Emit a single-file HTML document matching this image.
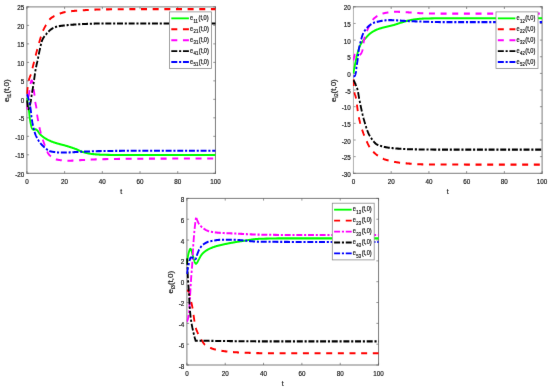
<!DOCTYPE html>
<html><head><meta charset="utf-8"><title>Figure</title>
<style>html,body{margin:0;padding:0;background:#fff}svg{display:block}text{font-family:"Liberation Sans",Arial,sans-serif;fill:#1c1c1c;stroke:#1c1c1c;stroke-width:0.22px}</style></head>
<body>
<svg width="550" height="387" viewBox="0 0 550 387">
<rect width="550" height="387" fill="#fff"/>
<filter id="bl" x="0" y="0" width="100%" height="100%" filterUnits="userSpaceOnUse" color-interpolation-filters="sRGB"><feConvolveMatrix order="3" kernelMatrix="0.0028 0.0470 0.0028 0.0470 0.8008 0.0470 0.0028 0.0470 0.0028" edgeMode="duplicate" preserveAlpha="true"/></filter>
<g filter="url(#bl)">
<rect width="550" height="387" fill="#fff"/>
<g id="plot1">
<clipPath id="c0"><rect x="26.3" y="6.3" width="189.75" height="167.6"/></clipPath>
<path d="M26.9 173.3 v-2.2 M26.9 6.9 v2.2 M64.61 173.3 v-2.2 M64.61 6.9 v2.2 M102.32 173.3 v-2.2 M102.32 6.9 v2.2 M140.03 173.3 v-2.2 M140.03 6.9 v2.2 M177.74 173.3 v-2.2 M177.74 6.9 v2.2 M215.45 173.3 v-2.2 M215.45 6.9 v2.2 M26.9 6.9 h2.2 M215.45 6.9 h-2.2 M26.9 25.39 h2.2 M215.45 25.39 h-2.2 M26.9 43.88 h2.2 M215.45 43.88 h-2.2 M26.9 62.37 h2.2 M215.45 62.37 h-2.2 M26.9 80.86 h2.2 M215.45 80.86 h-2.2 M26.9 99.34 h2.2 M215.45 99.34 h-2.2 M26.9 117.83 h2.2 M215.45 117.83 h-2.2 M26.9 136.32 h2.2 M215.45 136.32 h-2.2 M26.9 154.81 h2.2 M215.45 154.81 h-2.2 M26.9 173.3 h2.2 M215.45 173.3 h-2.2" stroke="#6a6a6a" stroke-width="0.7" fill="none"/>
<path d="M26.9 6.5 V173.7" stroke="#5c5c5c" stroke-width="0.8" fill="none"/>
<path d="M26.5 6.9 H215.85 M215.45 6.5 V173.7 M26.5 173.3 H215.85" stroke="#5c5c5c" stroke-width="0.8" fill="none"/>
<g clip-path="url(#c0)"><g transform="scale(1 1.115)" fill="none" stroke-width="1.85" stroke-linejoin="miter" stroke-miterlimit="3">
<path d="M26.9 87.77 L27.02 88.32 L27.14 88.88 L27.26 89.46 L27.37 90.05 L27.49 90.66 L27.61 91.28 L27.73 91.91 L27.85 92.56 L27.97 93.22 L28.09 93.88 L28.2 94.56 L28.32 95.24 L28.44 95.94 L28.56 96.66 L28.68 97.4 L28.8 98.16 L28.92 98.96 L29.03 99.8 L29.15 100.71 L29.27 101.75 L29.39 102.85 L29.51 103.94 L29.63 104.95 L29.75 105.8 L29.86 106.55 L29.98 107.27 L30.1 107.95 L30.22 108.61 L30.34 109.23 L30.46 109.83 L30.58 110.39 L30.69 110.92 L30.81 111.42 L30.93 111.88 L31.05 112.32 L31.17 112.75 L31.29 113.17 L31.41 113.58 L31.52 113.98 L31.64 114.35 L31.76 114.68 L31.88 114.97 L32 115.21 L32.12 115.4 L32.24 115.52 L32.35 115.62 L32.47 115.73 L32.59 115.82 L32.71 115.91 L32.83 115.99 L32.95 116.07 L33.07 116.13 L33.18 116.18 L33.3 116.23 L33.42 116.26 L33.54 116.28 L33.66 116.29 L33.78 116.29 L33.9 116.28 L34.02 116.27 L34.13 116.26 L34.25 116.24 L34.37 116.21 L34.49 116.19 L34.61 116.16 L34.73 116.14 L34.85 116.12 L34.96 116.09 L35.08 116.07 L35.2 116.05 L35.32 116.04 L35.44 116.03 L35.56 116.03 L35.68 116.03 L35.79 116.05 L35.91 116.08 L36.03 116.13 L36.15 116.18 L36.27 116.24 L36.39 116.31 L36.51 116.39 L36.62 116.47 L36.74 116.56 L36.86 116.65 L36.98 116.74 L37.1 116.83 L37.22 116.92 L37.34 117.01 L37.45 117.11 L37.57 117.22 L37.69 117.35 L37.81 117.49 L37.93 117.63 L38.05 117.79 L38.17 117.95 L38.28 118.11 L38.4 118.28 L38.52 118.46 L38.64 118.63 L38.76 118.81 L38.88 118.98 L39 119.15 L39.11 119.32 L39.23 119.48 L39.35 119.64 L39.47 119.79 L39.59 119.94 L39.71 120.07 L39.83 120.19 L39.94 120.3 L40.06 120.41 L40.18 120.52 L40.3 120.62 L40.42 120.73 L40.54 120.83 L40.66 120.93 L40.77 121.03 L40.89 121.13 L41.01 121.23 L41.13 121.33 L41.25 121.42 L41.37 121.52 L41.49 121.61 L41.6 121.7 L41.72 121.8 L41.84 121.89 L41.96 121.98 L42.08 122.07 L42.2 122.15 L42.32 122.24 L42.43 122.33 L42.55 122.41 L42.67 122.5 L42.79 122.58 L42.91 122.66 L43.03 122.74 L43.15 122.82 L43.26 122.9 L43.38 122.98 L43.5 123.06 L43.62 123.14 L43.74 123.21 L43.86 123.29 L43.98 123.36 L44.09 123.44 L44.21 123.51 L44.33 123.58 L44.45 123.65 L44.57 123.73 L44.69 123.79 L44.81 123.86 L44.92 123.93 L45.04 124 L45.16 124.07 L45.28 124.13 L45.4 124.2 L45.52 124.26 L45.64 124.33 L45.75 124.39 L46.27 124.66 L46.79 124.92 L47.31 125.17 L47.83 125.41 L48.35 125.64 L48.87 125.86 L49.39 126.08 L49.91 126.28 L50.43 126.48 L50.94 126.68 L51.46 126.87 L51.98 127.05 L52.5 127.22 L53.02 127.4 L53.54 127.56 L54.06 127.73 L54.58 127.89 L55.1 128.04 L55.61 128.2 L56.13 128.35 L56.65 128.49 L57.17 128.63 L57.69 128.77 L58.21 128.9 L58.73 129.02 L59.25 129.14 L59.77 129.26 L60.29 129.38 L60.8 129.5 L61.32 129.61 L61.84 129.73 L62.36 129.84 L62.88 129.96 L63.4 130.09 L63.92 130.21 L64.44 130.34 L64.96 130.48 L65.47 130.61 L65.99 130.75 L66.51 130.89 L67.03 131.03 L67.55 131.17 L68.07 131.32 L68.59 131.46 L69.11 131.61 L69.63 131.76 L70.15 131.91 L70.66 132.06 L71.18 132.21 L71.7 132.37 L72.22 132.52 L72.74 132.68 L73.26 132.84 L73.78 133 L74.3 133.17 L74.82 133.34 L75.33 133.52 L75.85 133.7 L76.37 133.9 L76.89 134.1 L77.41 134.3 L77.93 134.51 L78.45 134.72 L78.97 134.93 L79.49 135.13 L80.01 135.33 L80.52 135.53 L81.04 135.72 L81.56 135.9 L82.08 136.08 L82.6 136.24 L83.12 136.38 L83.64 136.52 L84.16 136.64 L84.68 136.77 L85.19 136.89 L85.71 137.01 L86.23 137.12 L86.75 137.23 L87.27 137.34 L87.79 137.44 L88.31 137.55 L88.83 137.64 L89.35 137.73 L89.87 137.82 L90.38 137.9 L90.9 137.97 L91.42 138.04 L91.94 138.1 L92.46 138.16 L92.98 138.21 L93.5 138.25 L94.02 138.3 L94.54 138.34 L95.05 138.39 L95.57 138.43 L96.09 138.47 L96.61 138.5 L97.13 138.54 L97.65 138.57 L98.17 138.6 L98.69 138.63 L99.21 138.66 L99.73 138.69 L100.24 138.71 L100.76 138.73 L101.28 138.75 L101.8 138.76 L102.32 138.78 L105.22 138.84 L108.12 138.9 L111.02 138.94 L113.92 138.98 L116.82 139 L119.72 139.01 L122.63 139.01 L125.53 139.01 L128.43 139.01 L131.33 139.01 L134.23 139.01 L137.13 139.01 L140.03 139.01 L142.93 139.01 L145.83 139.01 L148.73 139.01 L151.63 139.01 L154.53 139.01 L157.43 139.01 L160.34 139.01 L163.24 139.01 L166.14 139.01 L169.04 139.01 L171.94 139.01 L174.84 139.01 L177.74 139.01 L180.64 139.01 L183.54 139.01 L186.44 139.01 L189.34 139.01 L192.24 139.01 L195.14 139.01 L198.05 139.01 L200.95 139.01 L203.85 139.01 L206.75 139.01 L209.65 139.01 L212.55 139.01 L215.45 139.01" stroke="#00ff00"/>
<path d="M26.9 84.12 L27.02 83.2 L27.14 82.31 L27.26 81.43 L27.37 80.58 L27.49 79.75 L27.61 78.95 L27.73 78.19 L27.85 77.45 L27.97 76.74 L28.09 76.02 L28.2 75.32 L28.32 74.63 L28.44 73.97 L28.56 73.35 L28.68 72.76 L28.8 72.22 L28.92 71.74 L29.03 71.31 L29.15 70.92 L29.27 70.56 L29.39 70.22 L29.51 69.9 L29.63 69.6 L29.75 69.32 L29.86 69.04 L29.98 68.78 L30.1 68.52 L30.22 68.26 L30.34 68 L30.46 67.73 L30.58 67.46 L30.69 67.17 L30.81 66.87 L30.93 66.55 L31.05 66.21 L31.17 65.84 L31.29 65.47 L31.41 65.07 L31.52 64.67 L31.64 64.25 L31.76 63.82 L31.88 63.39 L32 62.95 L32.12 62.51 L32.24 62.07 L32.35 61.63 L32.47 61.19 L32.59 60.76 L32.71 60.33 L32.83 59.9 L32.95 59.47 L33.07 59.04 L33.18 58.61 L33.3 58.17 L33.42 57.73 L33.54 57.3 L33.66 56.86 L33.78 56.42 L33.9 55.98 L34.02 55.54 L34.13 55.11 L34.25 54.67 L34.37 54.24 L34.49 53.81 L34.61 53.38 L34.73 52.95 L34.85 52.53 L34.96 52.11 L35.08 51.69 L35.2 51.28 L35.32 50.87 L35.44 50.45 L35.56 50.05 L35.68 49.64 L35.79 49.23 L35.91 48.83 L36.03 48.42 L36.15 48.02 L36.27 47.62 L36.39 47.22 L36.51 46.82 L36.62 46.43 L36.74 46.03 L36.86 45.64 L36.98 45.24 L37.1 44.85 L37.22 44.46 L37.34 44.07 L37.45 43.68 L37.57 43.29 L37.69 42.9 L37.81 42.51 L37.93 42.12 L38.05 41.74 L38.17 41.35 L38.28 40.96 L38.4 40.58 L38.52 40.19 L38.64 39.81 L38.76 39.43 L38.88 39.05 L39 38.68 L39.11 38.3 L39.23 37.93 L39.35 37.56 L39.47 37.2 L39.59 36.83 L39.71 36.48 L39.83 36.12 L39.94 35.77 L40.06 35.42 L40.18 35.06 L40.3 34.71 L40.42 34.35 L40.54 34 L40.66 33.64 L40.77 33.29 L40.89 32.94 L41.01 32.59 L41.13 32.24 L41.25 31.9 L41.37 31.56 L41.49 31.22 L41.6 30.89 L41.72 30.56 L41.84 30.24 L41.96 29.93 L42.08 29.63 L42.2 29.33 L42.32 29.04 L42.43 28.75 L42.55 28.48 L42.67 28.22 L42.79 27.97 L42.91 27.72 L43.03 27.48 L43.15 27.24 L43.26 27.01 L43.38 26.78 L43.5 26.56 L43.62 26.34 L43.74 26.12 L43.86 25.91 L43.98 25.7 L44.09 25.49 L44.21 25.29 L44.33 25.09 L44.45 24.89 L44.57 24.7 L44.69 24.51 L44.81 24.31 L44.92 24.13 L45.04 23.94 L45.16 23.75 L45.28 23.57 L45.4 23.39 L45.52 23.2 L45.64 23.02 L45.75 22.84 L46.27 22.05 L46.79 21.23 L47.31 20.41 L47.83 19.6 L48.35 18.84 L48.87 18.16 L49.39 17.59 L49.91 17.13 L50.43 16.71 L50.94 16.33 L51.46 15.98 L51.98 15.65 L52.5 15.34 L53.02 15.06 L53.54 14.78 L54.06 14.52 L54.58 14.27 L55.1 14.02 L55.61 13.78 L56.13 13.55 L56.65 13.33 L57.17 13.12 L57.69 12.92 L58.21 12.73 L58.73 12.54 L59.25 12.37 L59.77 12.2 L60.29 12.04 L60.8 11.88 L61.32 11.72 L61.84 11.57 L62.36 11.43 L62.88 11.29 L63.4 11.16 L63.92 11.04 L64.44 10.93 L64.96 10.84 L65.47 10.75 L65.99 10.66 L66.51 10.58 L67.03 10.51 L67.55 10.43 L68.07 10.37 L68.59 10.3 L69.11 10.24 L69.63 10.18 L70.15 10.13 L70.66 10.07 L71.18 10.02 L71.7 9.97 L72.22 9.93 L72.74 9.88 L73.26 9.84 L73.78 9.8 L74.3 9.75 L74.82 9.71 L75.33 9.67 L75.85 9.64 L76.37 9.6 L76.89 9.56 L77.41 9.53 L77.93 9.49 L78.45 9.46 L78.97 9.43 L79.49 9.4 L80.01 9.36 L80.52 9.33 L81.04 9.3 L81.56 9.28 L82.08 9.25 L82.6 9.22 L83.12 9.19 L83.64 9.16 L84.16 9.14 L84.68 9.11 L85.19 9.08 L85.71 9.05 L86.23 9.03 L86.75 9 L87.27 8.97 L87.79 8.95 L88.31 8.92 L88.83 8.89 L89.35 8.87 L89.87 8.84 L90.38 8.82 L90.9 8.79 L91.42 8.77 L91.94 8.75 L92.46 8.72 L92.98 8.7 L93.5 8.68 L94.02 8.66 L94.54 8.64 L95.05 8.62 L95.57 8.61 L96.09 8.59 L96.61 8.57 L97.13 8.56 L97.65 8.55 L98.17 8.53 L98.69 8.52 L99.21 8.51 L99.73 8.51 L100.24 8.5 L100.76 8.49 L101.28 8.48 L101.8 8.48 L102.32 8.47 L105.22 8.43 L108.12 8.39 L111.02 8.36 L113.92 8.32 L116.82 8.29 L119.72 8.27 L122.63 8.24 L125.53 8.22 L128.43 8.21 L131.33 8.2 L134.23 8.19 L137.13 8.18 L140.03 8.18 L142.93 8.18 L145.83 8.18 L148.73 8.18 L151.63 8.18 L154.53 8.18 L157.43 8.18 L160.34 8.18 L163.24 8.18 L166.14 8.18 L169.04 8.18 L171.94 8.18 L174.84 8.18 L177.74 8.18 L180.64 8.18 L183.54 8.18 L186.44 8.18 L189.34 8.18 L192.24 8.18 L195.14 8.18 L198.05 8.18 L200.95 8.18 L203.85 8.18 L206.75 8.18 L209.65 8.18 L212.55 8.18 L215.45 8.18" stroke="#ff0000" stroke-dasharray="6.08 5.72 6.08 5.72 6.08 5.72 6.08 5.72 6.08 5.72 6.08 5.72 6.08 5.72 6 5.65 6 5.65 6 5.65 6 5.65 6 5.65 6 5.65 6 5.65 6 5.65 6 5.65 6 5.65 6 5.65 6 5.65 6 5.65 6 5.65 6 5.65"/>
<path d="M26.9 98.05 L27.02 97.26 L27.14 96.48 L27.26 95.69 L27.37 94.9 L27.49 94.12 L27.61 93.33 L27.73 92.55 L27.85 91.77 L27.97 90.99 L28.09 90.21 L28.2 89.43 L28.32 88.66 L28.44 87.88 L28.56 87.11 L28.68 86.33 L28.8 85.56 L28.92 84.78 L29.03 84.01 L29.15 83.23 L29.27 82.41 L29.39 81.56 L29.51 80.71 L29.63 79.86 L29.75 79.05 L29.86 78.28 L29.98 77.57 L30.1 76.94 L30.22 76.41 L30.34 75.9 L30.46 75.39 L30.58 74.89 L30.69 74.4 L30.81 73.94 L30.93 73.51 L31.05 73.13 L31.17 72.79 L31.29 72.52 L31.41 72.33 L31.52 72.21 L31.64 72.19 L31.76 72.23 L31.88 72.32 L32 72.47 L32.12 72.65 L32.24 72.88 L32.35 73.14 L32.47 73.43 L32.59 73.74 L32.71 74.07 L32.83 74.5 L32.95 75.19 L33.07 76.06 L33.18 77.04 L33.3 78.03 L33.42 78.96 L33.54 79.74 L33.66 80.43 L33.78 81.07 L33.9 81.69 L34.02 82.31 L34.13 82.94 L34.25 83.6 L34.37 84.32 L34.49 85.12 L34.61 86.08 L34.73 87.14 L34.85 88.24 L34.96 89.32 L35.08 90.3 L35.2 91.12 L35.32 91.79 L35.44 92.38 L35.56 92.91 L35.68 93.4 L35.79 93.87 L35.91 94.35 L36.03 94.85 L36.15 95.41 L36.27 96.04 L36.39 96.79 L36.51 97.73 L36.62 98.81 L36.74 99.93 L36.86 101.03 L36.98 102.01 L37.1 102.79 L37.22 103.47 L37.34 104.14 L37.45 104.8 L37.57 105.45 L37.69 106.08 L37.81 106.7 L37.93 107.31 L38.05 107.91 L38.17 108.5 L38.28 109.08 L38.4 109.65 L38.52 110.21 L38.64 110.75 L38.76 111.29 L38.88 111.82 L39 112.33 L39.11 112.84 L39.23 113.34 L39.35 113.83 L39.47 114.32 L39.59 114.79 L39.71 115.26 L39.83 115.71 L39.94 116.16 L40.06 116.6 L40.18 117.04 L40.3 117.47 L40.42 117.89 L40.54 118.3 L40.66 118.71 L40.77 119.11 L40.89 119.51 L41.01 119.9 L41.13 120.28 L41.25 120.66 L41.37 121.03 L41.49 121.4 L41.6 121.76 L41.72 122.12 L41.84 122.48 L41.96 122.83 L42.08 123.17 L42.2 123.52 L42.32 123.86 L42.43 124.19 L42.55 124.52 L42.67 124.85 L42.79 125.18 L42.91 125.51 L43.03 125.83 L43.15 126.15 L43.26 126.47 L43.38 126.79 L43.5 127.1 L43.62 127.42 L43.74 127.74 L43.86 128.05 L43.98 128.37 L44.09 128.68 L44.21 128.99 L44.33 129.3 L44.45 129.61 L44.57 129.92 L44.69 130.22 L44.81 130.53 L44.92 130.83 L45.04 131.13 L45.16 131.42 L45.28 131.72 L45.4 132.01 L45.52 132.3 L45.64 132.58 L45.75 132.86 L46.27 134.05 L46.79 135.16 L47.31 136.18 L47.83 137.09 L48.35 137.88 L48.87 138.54 L49.39 139.05 L49.91 139.49 L50.43 139.91 L50.94 140.31 L51.46 140.68 L51.98 141.03 L52.5 141.36 L53.02 141.67 L53.54 141.94 L54.06 142.2 L54.58 142.43 L55.1 142.63 L55.61 142.81 L56.13 142.96 L56.65 143.08 L57.17 143.17 L57.69 143.26 L58.21 143.34 L58.73 143.41 L59.25 143.49 L59.77 143.56 L60.29 143.63 L60.8 143.69 L61.32 143.75 L61.84 143.81 L62.36 143.87 L62.88 143.91 L63.4 143.96 L63.92 144 L64.44 144.04 L64.96 144.07 L65.47 144.09 L65.99 144.12 L66.51 144.13 L67.03 144.14 L67.55 144.15 L68.07 144.15 L68.59 144.15 L69.11 144.14 L69.63 144.13 L70.15 144.12 L70.66 144.11 L71.18 144.1 L71.7 144.08 L72.22 144.06 L72.74 144.04 L73.26 144.02 L73.78 143.99 L74.3 143.97 L74.82 143.94 L75.33 143.92 L75.85 143.89 L76.37 143.86 L76.89 143.83 L77.41 143.8 L77.93 143.77 L78.45 143.74 L78.97 143.72 L79.49 143.69 L80.01 143.66 L80.52 143.63 L81.04 143.6 L81.56 143.58 L82.08 143.55 L82.6 143.53 L83.12 143.5 L83.64 143.48 L84.16 143.46 L84.68 143.43 L85.19 143.41 L85.71 143.39 L86.23 143.36 L86.75 143.34 L87.27 143.31 L87.79 143.29 L88.31 143.26 L88.83 143.24 L89.35 143.21 L89.87 143.19 L90.38 143.16 L90.9 143.14 L91.42 143.12 L91.94 143.09 L92.46 143.07 L92.98 143.04 L93.5 143.02 L94.02 143 L94.54 142.98 L95.05 142.96 L95.57 142.94 L96.09 142.92 L96.61 142.9 L97.13 142.89 L97.65 142.87 L98.17 142.86 L98.69 142.84 L99.21 142.83 L99.73 142.82 L100.24 142.81 L100.76 142.8 L101.28 142.79 L101.8 142.78 L102.32 142.77 L105.22 142.71 L108.12 142.66 L111.02 142.61 L113.92 142.57 L116.82 142.53 L119.72 142.49 L122.63 142.46 L125.53 142.43 L128.43 142.4 L131.33 142.38 L134.23 142.36 L137.13 142.34 L140.03 142.33 L142.93 142.31 L145.83 142.3 L148.73 142.29 L151.63 142.28 L154.53 142.27 L157.43 142.26 L160.34 142.25 L163.24 142.24 L166.14 142.24 L169.04 142.23 L171.94 142.22 L174.84 142.21 L177.74 142.21 L180.64 142.2 L183.54 142.19 L186.44 142.19 L189.34 142.18 L192.24 142.18 L195.14 142.17 L198.05 142.17 L200.95 142.17 L203.85 142.16 L206.75 142.16 L209.65 142.16 L212.55 142.16 L215.45 142.16" stroke="#ff00ff" stroke-dasharray="5.95 5.6 5.95 5.6 5.95 5.6 5.95 5.6 5.95 5.6 5.95 5.6 5.95 5.6 5.95 5.6 5.95 5.6 6 5.65 6 5.65 6 5.65 6 5.65 6 5.65 6 5.65 6 5.65 6 5.65 6 5.65 6 5.65 6 5.65 6 5.65 6 5.65 6 5.65 6 5.65"/>
<path d="M26.9 90.09 L27.02 91.17 L27.14 92.19 L27.26 93.14 L27.37 94.01 L27.49 94.81 L27.61 95.52 L27.73 96.15 L27.85 96.69 L27.97 97.13 L28.09 97.48 L28.2 97.72 L28.32 97.86 L28.44 97.88 L28.56 97.81 L28.68 97.66 L28.8 97.45 L28.92 97.18 L29.03 96.87 L29.15 96.53 L29.27 96.18 L29.39 95.83 L29.51 95.49 L29.63 95.15 L29.75 94.8 L29.86 94.43 L29.98 94.04 L30.1 93.63 L30.22 93.19 L30.34 92.73 L30.46 92.25 L30.58 91.74 L30.69 91.21 L30.81 90.65 L30.93 90.04 L31.05 89.32 L31.17 88.51 L31.29 87.67 L31.41 86.82 L31.52 86.01 L31.64 85.28 L31.76 84.59 L31.88 83.94 L32 83.3 L32.12 82.69 L32.24 82.08 L32.35 81.49 L32.47 80.89 L32.59 80.3 L32.71 79.69 L32.83 79.08 L32.95 78.45 L33.07 77.8 L33.18 77.13 L33.3 76.44 L33.42 75.73 L33.54 75.01 L33.66 74.28 L33.78 73.54 L33.9 72.81 L34.02 72.07 L34.13 71.35 L34.25 70.62 L34.37 69.87 L34.49 69.12 L34.61 68.35 L34.73 67.59 L34.85 66.83 L34.96 66.08 L35.08 65.34 L35.2 64.63 L35.32 63.94 L35.44 63.28 L35.56 62.65 L35.68 62.06 L35.79 61.49 L35.91 60.94 L36.03 60.4 L36.15 59.89 L36.27 59.38 L36.39 58.88 L36.51 58.4 L36.62 57.92 L36.74 57.45 L36.86 56.98 L36.98 56.52 L37.1 56.05 L37.22 55.58 L37.34 55.11 L37.45 54.63 L37.57 54.15 L37.69 53.66 L37.81 53.15 L37.93 52.64 L38.05 52.12 L38.17 51.59 L38.28 51.06 L38.4 50.52 L38.52 49.99 L38.64 49.45 L38.76 48.91 L38.88 48.38 L39 47.85 L39.11 47.32 L39.23 46.8 L39.35 46.29 L39.47 45.78 L39.59 45.28 L39.71 44.8 L39.83 44.32 L39.94 43.86 L40.06 43.4 L40.18 42.93 L40.3 42.46 L40.42 41.99 L40.54 41.51 L40.66 41.04 L40.77 40.58 L40.89 40.12 L41.01 39.67 L41.13 39.22 L41.25 38.79 L41.37 38.38 L41.49 37.98 L41.6 37.59 L41.72 37.23 L41.84 36.89 L41.96 36.57 L42.08 36.28 L42.2 36.01 L42.32 35.77 L42.43 35.55 L42.55 35.33 L42.67 35.11 L42.79 34.91 L42.91 34.7 L43.03 34.51 L43.15 34.32 L43.26 34.14 L43.38 33.96 L43.5 33.79 L43.62 33.62 L43.74 33.46 L43.86 33.3 L43.98 33.15 L44.09 33 L44.21 32.85 L44.33 32.71 L44.45 32.57 L44.57 32.43 L44.69 32.29 L44.81 32.16 L44.92 32.03 L45.04 31.9 L45.16 31.78 L45.28 31.65 L45.4 31.52 L45.52 31.4 L45.64 31.28 L45.75 31.15 L46.27 30.61 L46.79 30.07 L47.31 29.53 L47.83 29 L48.35 28.49 L48.87 28 L49.39 27.54 L49.91 27.11 L50.43 26.72 L50.94 26.37 L51.46 26.06 L51.98 25.78 L52.5 25.5 L53.02 25.25 L53.54 25.01 L54.06 24.78 L54.58 24.57 L55.1 24.38 L55.61 24.2 L56.13 24.05 L56.65 23.92 L57.17 23.8 L57.69 23.7 L58.21 23.6 L58.73 23.51 L59.25 23.43 L59.77 23.35 L60.29 23.27 L60.8 23.2 L61.32 23.14 L61.84 23.07 L62.36 23.01 L62.88 22.96 L63.4 22.9 L63.92 22.85 L64.44 22.8 L64.96 22.75 L65.47 22.7 L65.99 22.65 L66.51 22.6 L67.03 22.56 L67.55 22.51 L68.07 22.47 L68.59 22.43 L69.11 22.38 L69.63 22.35 L70.15 22.31 L70.66 22.27 L71.18 22.23 L71.7 22.2 L72.22 22.17 L72.74 22.13 L73.26 22.1 L73.78 22.07 L74.3 22.04 L74.82 22.02 L75.33 21.99 L75.85 21.96 L76.37 21.94 L76.89 21.91 L77.41 21.88 L77.93 21.85 L78.45 21.83 L78.97 21.8 L79.49 21.77 L80.01 21.75 L80.52 21.72 L81.04 21.69 L81.56 21.67 L82.08 21.64 L82.6 21.61 L83.12 21.59 L83.64 21.56 L84.16 21.54 L84.68 21.52 L85.19 21.49 L85.71 21.47 L86.23 21.44 L86.75 21.42 L87.27 21.4 L87.79 21.38 L88.31 21.36 L88.83 21.34 L89.35 21.32 L89.87 21.3 L90.38 21.28 L90.9 21.26 L91.42 21.25 L91.94 21.23 L92.46 21.22 L92.98 21.2 L93.5 21.19 L94.02 21.18 L94.54 21.17 L95.05 21.16 L95.57 21.15 L96.09 21.14 L96.61 21.13 L97.13 21.12 L97.65 21.12 L98.17 21.12 L98.69 21.11 L99.21 21.11 L99.73 21.11 L100.24 21.11 L100.76 21.11 L101.28 21.11 L101.8 21.11 L102.32 21.11 L105.22 21.11 L108.12 21.11 L111.02 21.11 L113.92 21.11 L116.82 21.11 L119.72 21.11 L122.63 21.11 L125.53 21.11 L128.43 21.11 L131.33 21.11 L134.23 21.11 L137.13 21.11 L140.03 21.11 L142.93 21.11 L145.83 21.11 L148.73 21.11 L151.63 21.11 L154.53 21.11 L157.43 21.11 L160.34 21.11 L163.24 21.11 L166.14 21.11 L169.04 21.11 L171.94 21.11 L174.84 21.11 L177.74 21.11 L180.64 21.11 L183.54 21.11 L186.44 21.11 L189.34 21.11 L192.24 21.11 L195.14 21.11 L198.05 21.11 L200.95 21.11 L203.85 21.11 L206.75 21.11 L209.65 21.11 L212.55 21.11 L215.45 21.11" stroke="#000000" stroke-dasharray="6 1.8 2.1 1.75 6 1.8 2.1 1.75 6 1.8 2.1 1.75 6 1.8 2.1 1.75 6 1.8 2.1 1.75 6 1.8 2.1 1.75 6 1.8 2.1 1.75 6 1.8 2.1 1.75 6 1.8 2.1 1.75 6 1.8 2.1 1.75 6 1.8 2.1 1.75 6 1.8 2.1 1.75 6 1.8 2.1 1.75 6 1.8 2.1 1.75 6 1.8 2.1 1.75 6 1.8 2.1 1.75 6 1.8 2.1 1.75 6 1.8 2.1 1.75 6 1.8 2.1 1.75 6 1.8 2.1 1.75 6 1.8 2.1 1.75 6 1.8 2.1 1.75 6 1.8 2.1 1.75"/>
<path d="M26.9 84.46 L27.02 84.67 L27.14 84.9 L27.26 85.15 L27.37 85.42 L27.49 85.69 L27.61 85.98 L27.73 86.28 L27.85 86.6 L27.97 86.92 L28.09 87.26 L28.2 87.6 L28.32 87.96 L28.44 88.32 L28.56 88.68 L28.68 89.06 L28.8 89.44 L28.92 89.85 L29.03 90.28 L29.15 90.72 L29.27 91.19 L29.39 91.67 L29.51 92.17 L29.63 92.69 L29.75 93.22 L29.86 93.77 L29.98 94.34 L30.1 94.93 L30.22 95.55 L30.34 96.19 L30.46 96.86 L30.58 97.56 L30.69 98.3 L30.81 99.07 L30.93 99.91 L31.05 100.9 L31.17 101.99 L31.29 103.1 L31.41 104.16 L31.52 105.1 L31.64 105.85 L31.76 106.52 L31.88 107.18 L32 107.82 L32.12 108.45 L32.24 109.07 L32.35 109.67 L32.47 110.25 L32.59 110.83 L32.71 111.38 L32.83 111.93 L32.95 112.46 L33.07 112.98 L33.18 113.49 L33.3 113.98 L33.42 114.46 L33.54 114.92 L33.66 115.37 L33.78 115.81 L33.9 116.24 L34.02 116.65 L34.13 117.05 L34.25 117.44 L34.37 117.82 L34.49 118.18 L34.61 118.53 L34.73 118.87 L34.85 119.19 L34.96 119.51 L35.08 119.81 L35.2 120.1 L35.32 120.38 L35.44 120.65 L35.56 120.9 L35.68 121.15 L35.79 121.39 L35.91 121.63 L36.03 121.86 L36.15 122.1 L36.27 122.32 L36.39 122.55 L36.51 122.77 L36.62 122.99 L36.74 123.2 L36.86 123.41 L36.98 123.62 L37.1 123.83 L37.22 124.03 L37.34 124.23 L37.45 124.43 L37.57 124.62 L37.69 124.81 L37.81 125 L37.93 125.18 L38.05 125.36 L38.17 125.54 L38.28 125.72 L38.4 125.89 L38.52 126.06 L38.64 126.23 L38.76 126.39 L38.88 126.56 L39 126.72 L39.11 126.87 L39.23 127.03 L39.35 127.18 L39.47 127.33 L39.59 127.48 L39.71 127.63 L39.83 127.77 L39.94 127.91 L40.06 128.05 L40.18 128.19 L40.3 128.33 L40.42 128.46 L40.54 128.59 L40.66 128.72 L40.77 128.85 L40.89 128.98 L41.01 129.1 L41.13 129.22 L41.25 129.34 L41.37 129.46 L41.49 129.58 L41.6 129.7 L41.72 129.81 L41.84 129.92 L41.96 130.04 L42.08 130.15 L42.2 130.26 L42.32 130.36 L42.43 130.47 L42.55 130.58 L42.67 130.68 L42.79 130.78 L42.91 130.88 L43.03 130.99 L43.15 131.09 L43.26 131.18 L43.38 131.28 L43.5 131.38 L43.62 131.48 L43.74 131.58 L43.86 131.67 L43.98 131.77 L44.09 131.87 L44.21 131.96 L44.33 132.06 L44.45 132.16 L44.57 132.25 L44.69 132.35 L44.81 132.44 L44.92 132.54 L45.04 132.63 L45.16 132.72 L45.28 132.82 L45.4 132.91 L45.52 133 L45.64 133.09 L45.75 133.18 L46.27 133.56 L46.79 133.92 L47.31 134.27 L47.83 134.59 L48.35 134.88 L48.87 135.14 L49.39 135.38 L49.91 135.57 L50.43 135.73 L50.94 135.84 L51.46 135.93 L51.98 136.01 L52.5 136.09 L53.02 136.17 L53.54 136.24 L54.06 136.31 L54.58 136.38 L55.1 136.44 L55.61 136.5 L56.13 136.55 L56.65 136.6 L57.17 136.65 L57.69 136.69 L58.21 136.73 L58.73 136.76 L59.25 136.79 L59.77 136.81 L60.29 136.83 L60.8 136.84 L61.32 136.85 L61.84 136.85 L62.36 136.85 L62.88 136.85 L63.4 136.84 L63.92 136.84 L64.44 136.83 L64.96 136.82 L65.47 136.81 L65.99 136.79 L66.51 136.78 L67.03 136.76 L67.55 136.75 L68.07 136.73 L68.59 136.71 L69.11 136.69 L69.63 136.67 L70.15 136.65 L70.66 136.62 L71.18 136.6 L71.7 136.58 L72.22 136.55 L72.74 136.53 L73.26 136.5 L73.78 136.47 L74.3 136.45 L74.82 136.42 L75.33 136.4 L75.85 136.37 L76.37 136.34 L76.89 136.32 L77.41 136.29 L77.93 136.26 L78.45 136.24 L78.97 136.21 L79.49 136.19 L80.01 136.16 L80.52 136.14 L81.04 136.12 L81.56 136.1 L82.08 136.08 L82.6 136.06 L83.12 136.04 L83.64 136.02 L84.16 136 L84.68 135.98 L85.19 135.96 L85.71 135.95 L86.23 135.93 L86.75 135.91 L87.27 135.89 L87.79 135.87 L88.31 135.85 L88.83 135.83 L89.35 135.81 L89.87 135.79 L90.38 135.77 L90.9 135.76 L91.42 135.74 L91.94 135.72 L92.46 135.7 L92.98 135.69 L93.5 135.67 L94.02 135.65 L94.54 135.64 L95.05 135.62 L95.57 135.61 L96.09 135.6 L96.61 135.58 L97.13 135.57 L97.65 135.56 L98.17 135.55 L98.69 135.54 L99.21 135.53 L99.73 135.52 L100.24 135.52 L100.76 135.51 L101.28 135.5 L101.8 135.5 L102.32 135.49 L105.22 135.45 L108.12 135.41 L111.02 135.38 L113.92 135.35 L116.82 135.32 L119.72 135.29 L122.63 135.27 L125.53 135.25 L128.43 135.23 L131.33 135.21 L134.23 135.2 L137.13 135.2 L140.03 135.2 L142.93 135.2 L145.83 135.2 L148.73 135.2 L151.63 135.2 L154.53 135.2 L157.43 135.2 L160.34 135.2 L163.24 135.2 L166.14 135.2 L169.04 135.2 L171.94 135.2 L174.84 135.2 L177.74 135.2 L180.64 135.2 L183.54 135.2 L186.44 135.2 L189.34 135.2 L192.24 135.2 L195.14 135.2 L198.05 135.2 L200.95 135.2 L203.85 135.2 L206.75 135.2 L209.65 135.2 L212.55 135.2 L215.45 135.2" stroke="#0000ff" stroke-dasharray="5.98 1.79 2.09 1.74 5.98 1.79 2.09 1.74 5.98 1.79 2.09 1.74 5.98 1.79 2.09 1.74 5.98 1.79 2.09 1.74 5.98 1.79 2.09 1.74 5.98 1.79 2.09 1.74 6 1.8 2.1 1.75 6 1.8 2.1 1.75 6 1.8 2.1 1.75 6 1.8 2.1 1.75 6 1.8 2.1 1.75 6 1.8 2.1 1.75 6 1.8 2.1 1.75 6 1.8 2.1 1.75 6 1.8 2.1 1.75 6 1.8 2.1 1.75 6 1.8 2.1 1.75 6 1.8 2.1 1.75 6 1.8 2.1 1.75 6 1.8 2.1 1.75"/>
</g></g>
<g font-size="7.7">
<text transform="translate(26.9 184.2) scale(0.82 1)" text-anchor="middle">0</text>
<text transform="translate(64.61 184.2) scale(0.82 1)" text-anchor="middle">20</text>
<text transform="translate(102.32 184.2) scale(0.82 1)" text-anchor="middle">40</text>
<text transform="translate(140.03 184.2) scale(0.82 1)" text-anchor="middle">60</text>
<text transform="translate(177.74 184.2) scale(0.82 1)" text-anchor="middle">80</text>
<text transform="translate(215.45 184.2) scale(0.82 1)" text-anchor="middle">100</text>
<text transform="translate(24.3 10.4) scale(0.82 1)" text-anchor="end">25</text>
<text transform="translate(24.3 28.89) scale(0.82 1)" text-anchor="end">20</text>
<text transform="translate(24.3 47.38) scale(0.82 1)" text-anchor="end">15</text>
<text transform="translate(24.3 65.87) scale(0.82 1)" text-anchor="end">10</text>
<text transform="translate(24.3 84.36) scale(0.82 1)" text-anchor="end">5</text>
<text transform="translate(24.3 102.84) scale(0.82 1)" text-anchor="end">0</text>
<text transform="translate(24.3 121.33) scale(0.82 1)" text-anchor="end">-5</text>
<text transform="translate(24.3 139.82) scale(0.82 1)" text-anchor="end">-10</text>
<text transform="translate(24.3 158.31) scale(0.82 1)" text-anchor="end">-15</text>
<text transform="translate(24.3 176.8) scale(0.82 1)" text-anchor="end">-20</text>
</g>
<text transform="translate(121.17 194.1) scale(0.86 1)" text-anchor="middle" font-size="8.03">t</text>
<text transform="translate(9.05 90.65) rotate(-90) scale(1 0.86)" text-anchor="middle" font-size="8.03">e<tspan font-size="5.2" dy="2.8">i1</tspan><tspan dy="-2.8">(t,0)</tspan></text>
<rect x="169.5" y="11.9" width="42" height="56.6" fill="#fff" stroke="#8c8c8c" stroke-width="0.8"/>
<path d="M171.3 18.36 H188.9" stroke="#00ff00" stroke-width="1.85" fill="none"/>
<text transform="translate(190 20.06) scale(0.86 1)" font-size="6.6">e<tspan font-size="5" dx="0.45" dy="2.5">11</tspan><tspan dx="0.6" dy="-2.5">(t,0)</tspan></text>
<path d="M171.3 29.28 H188.9" stroke="#ff0000" stroke-width="1.85" fill="none" stroke-dasharray="6 5.65"/>
<text transform="translate(190 30.98) scale(0.86 1)" font-size="6.6">e<tspan font-size="5" dx="0.45" dy="2.5">21</tspan><tspan dx="0.6" dy="-2.5">(t,0)</tspan></text>
<path d="M171.3 40.2 H188.9" stroke="#ff00ff" stroke-width="1.85" fill="none" stroke-dasharray="6 5.65"/>
<text transform="translate(190 41.9) scale(0.86 1)" font-size="6.6">e<tspan font-size="5" dx="0.45" dy="2.5">31</tspan><tspan dx="0.6" dy="-2.5">(t,0)</tspan></text>
<path d="M171.3 51.12 H188.9" stroke="#000000" stroke-width="1.85" fill="none" stroke-dasharray="6 1.8 2.1 1.75"/>
<text transform="translate(190 52.82) scale(0.86 1)" font-size="6.6">e<tspan font-size="5" dx="0.45" dy="2.5">41</tspan><tspan dx="0.6" dy="-2.5">(t,0)</tspan></text>
<path d="M171.3 62.04 H188.9" stroke="#0000ff" stroke-width="1.85" fill="none" stroke-dasharray="6 1.8 2.1 1.75"/>
<text transform="translate(190 63.74) scale(0.86 1)" font-size="6.6">e<tspan font-size="5" dx="0.45" dy="2.5">51</tspan><tspan dx="0.6" dy="-2.5">(t,0)</tspan></text>
</g>
<g id="plot2">
<clipPath id="c1"><rect x="352.85" y="6.2" width="189.85" height="167.7"/></clipPath>
<path d="M353.45 173.3 v-2.2 M353.45 6.8 v2.2 M391.18 173.3 v-2.2 M391.18 6.8 v2.2 M428.91 173.3 v-2.2 M428.91 6.8 v2.2 M466.64 173.3 v-2.2 M466.64 6.8 v2.2 M504.37 173.3 v-2.2 M504.37 6.8 v2.2 M542.1 173.3 v-2.2 M542.1 6.8 v2.2 M353.45 6.8 h2.2 M542.1 6.8 h-2.2 M353.45 23.45 h2.2 M542.1 23.45 h-2.2 M353.45 40.1 h2.2 M542.1 40.1 h-2.2 M353.45 56.75 h2.2 M542.1 56.75 h-2.2 M353.45 73.4 h2.2 M542.1 73.4 h-2.2 M353.45 90.05 h2.2 M542.1 90.05 h-2.2 M353.45 106.7 h2.2 M542.1 106.7 h-2.2 M353.45 123.35 h2.2 M542.1 123.35 h-2.2 M353.45 140 h2.2 M542.1 140 h-2.2 M353.45 156.65 h2.2 M542.1 156.65 h-2.2 M353.45 173.3 h2.2 M542.1 173.3 h-2.2" stroke="#6a6a6a" stroke-width="0.7" fill="none"/>
<path d="M353.45 6.4 V173.7" stroke="#a0a0a0" stroke-width="0.8" fill="none"/>
<path d="M353.05 6.8 H542.5 M542.1 6.4 V173.7 M353.05 173.3 H542.5" stroke="#5c5c5c" stroke-width="0.8" fill="none"/>
<g clip-path="url(#c1)"><g transform="scale(1 1.115)" fill="none" stroke-width="1.85" stroke-linejoin="miter" stroke-miterlimit="3">
<path d="M353.45 65.83 L353.57 65.18 L353.69 64.55 L353.81 63.92 L353.92 63.29 L354.04 62.68 L354.16 62.07 L354.28 61.47 L354.4 60.87 L354.52 60.28 L354.64 59.71 L354.76 59.13 L354.87 58.57 L354.99 58.01 L355.11 57.46 L355.23 56.91 L355.35 56.38 L355.47 55.85 L355.59 55.33 L355.7 54.81 L355.82 54.3 L355.94 53.8 L356.06 53.31 L356.18 52.82 L356.3 52.34 L356.42 51.87 L356.53 51.41 L356.65 50.95 L356.77 50.5 L356.89 50.06 L357.01 49.63 L357.13 49.2 L357.25 48.78 L357.37 48.36 L357.48 47.96 L357.6 47.56 L357.72 47.17 L357.84 46.78 L357.96 46.41 L358.08 46.04 L358.2 45.67 L358.31 45.32 L358.43 44.97 L358.55 44.63 L358.67 44.29 L358.79 43.96 L358.91 43.64 L359.03 43.32 L359.15 43 L359.26 42.7 L359.38 42.4 L359.5 42.11 L359.62 41.83 L359.74 41.56 L359.86 41.29 L359.98 41.04 L360.09 40.8 L360.21 40.56 L360.33 40.34 L360.45 40.13 L360.57 39.93 L360.69 39.74 L360.81 39.55 L360.92 39.37 L361.04 39.2 L361.16 39.02 L361.28 38.85 L361.4 38.69 L361.52 38.53 L361.64 38.37 L361.76 38.21 L361.87 38.06 L361.99 37.91 L362.11 37.76 L362.23 37.62 L362.35 37.48 L362.47 37.34 L362.59 37.2 L362.7 37.07 L362.82 36.94 L362.94 36.81 L363.06 36.68 L363.18 36.55 L363.3 36.43 L363.42 36.31 L363.54 36.19 L363.65 36.07 L363.77 35.95 L363.89 35.83 L364.01 35.72 L364.13 35.6 L364.25 35.49 L364.37 35.37 L364.48 35.26 L364.6 35.15 L364.72 35.03 L364.84 34.92 L364.96 34.81 L365.08 34.7 L365.2 34.59 L365.31 34.47 L365.43 34.36 L365.55 34.25 L365.67 34.13 L365.79 34.02 L365.91 33.9 L366.03 33.79 L366.15 33.67 L366.26 33.55 L366.38 33.43 L366.5 33.32 L366.62 33.2 L366.74 33.08 L366.86 32.96 L366.98 32.84 L367.09 32.72 L367.21 32.61 L367.33 32.49 L367.45 32.37 L367.57 32.26 L367.69 32.14 L367.81 32.03 L367.93 31.91 L368.04 31.8 L368.16 31.69 L368.28 31.58 L368.4 31.47 L368.52 31.36 L368.64 31.25 L368.76 31.15 L368.87 31.04 L368.99 30.94 L369.11 30.84 L369.23 30.74 L369.35 30.64 L369.47 30.54 L369.59 30.45 L369.7 30.36 L369.82 30.27 L369.94 30.18 L370.06 30.09 L370.18 30.01 L370.3 29.93 L370.42 29.85 L370.54 29.77 L370.65 29.7 L370.77 29.62 L370.89 29.55 L371.01 29.47 L371.13 29.4 L371.25 29.32 L371.37 29.25 L371.48 29.18 L371.6 29.11 L371.72 29.04 L371.84 28.97 L371.96 28.9 L372.08 28.83 L372.2 28.76 L372.31 28.69 L372.83 28.41 L373.35 28.13 L373.87 27.87 L374.39 27.61 L374.91 27.37 L375.43 27.14 L375.95 26.92 L376.47 26.71 L376.99 26.51 L377.51 26.32 L378.03 26.14 L378.55 25.97 L379.06 25.81 L379.58 25.66 L380.1 25.51 L380.62 25.37 L381.14 25.23 L381.66 25.1 L382.18 24.97 L382.7 24.85 L383.22 24.72 L383.74 24.6 L384.26 24.48 L384.78 24.36 L385.3 24.24 L385.81 24.12 L386.33 24.01 L386.85 23.9 L387.37 23.79 L387.89 23.69 L388.41 23.59 L388.93 23.48 L389.45 23.38 L389.97 23.28 L390.49 23.18 L391.01 23.07 L391.53 22.96 L392.05 22.85 L392.56 22.73 L393.08 22.61 L393.6 22.49 L394.12 22.35 L394.64 22.21 L395.16 22.06 L395.68 21.91 L396.2 21.76 L396.72 21.6 L397.24 21.44 L397.76 21.28 L398.28 21.12 L398.8 20.96 L399.31 20.8 L399.83 20.65 L400.35 20.51 L400.87 20.36 L401.39 20.22 L401.91 20.08 L402.43 19.94 L402.95 19.79 L403.47 19.65 L403.99 19.51 L404.51 19.37 L405.03 19.24 L405.55 19.1 L406.06 18.97 L406.58 18.85 L407.1 18.72 L407.62 18.61 L408.14 18.5 L408.66 18.39 L409.18 18.29 L409.7 18.2 L410.22 18.1 L410.74 18.01 L411.26 17.92 L411.78 17.84 L412.29 17.76 L412.81 17.68 L413.33 17.6 L413.85 17.53 L414.37 17.46 L414.89 17.39 L415.41 17.33 L415.93 17.27 L416.45 17.21 L416.97 17.16 L417.49 17.1 L418.01 17.04 L418.53 16.99 L419.04 16.94 L419.56 16.89 L420.08 16.84 L420.6 16.8 L421.12 16.77 L421.64 16.74 L422.16 16.71 L422.68 16.7 L423.2 16.68 L423.72 16.66 L424.24 16.65 L424.76 16.63 L425.28 16.62 L425.79 16.61 L426.31 16.59 L426.83 16.58 L427.35 16.57 L427.87 16.55 L428.39 16.54 L428.91 16.53 L431.81 16.47 L434.71 16.42 L437.62 16.38 L440.52 16.36 L443.42 16.34 L446.32 16.34 L449.23 16.34 L452.13 16.34 L455.03 16.34 L457.93 16.34 L460.84 16.34 L463.74 16.34 L466.64 16.34 L469.54 16.34 L472.44 16.34 L475.35 16.34 L478.25 16.34 L481.15 16.35 L484.05 16.35 L486.96 16.35 L489.86 16.35 L492.76 16.35 L495.66 16.35 L498.57 16.35 L501.47 16.35 L504.37 16.36 L507.27 16.36 L510.17 16.36 L513.08 16.36 L515.98 16.37 L518.88 16.37 L521.78 16.37 L524.69 16.38 L527.59 16.38 L530.49 16.38 L533.39 16.39 L536.3 16.39 L539.2 16.4 L542.1 16.4" stroke="#00ff00"/>
<path d="M353.45 71.21 L353.57 73.58 L353.69 75.64 L353.81 77.21 L353.92 78.6 L354.04 79.86 L354.16 80.95 L354.28 81.86 L354.4 82.59 L354.52 83.17 L354.64 83.67 L354.76 84.12 L354.87 84.51 L354.99 84.86 L355.11 85.19 L355.23 85.51 L355.35 85.82 L355.47 86.14 L355.59 86.49 L355.7 86.88 L355.82 87.31 L355.94 87.8 L356.06 88.36 L356.18 88.96 L356.3 89.62 L356.42 90.32 L356.53 91.06 L356.65 91.84 L356.77 92.64 L356.89 93.46 L357.01 94.29 L357.13 95.14 L357.25 95.99 L357.37 96.85 L357.48 97.69 L357.6 98.52 L357.72 99.34 L357.84 100.13 L357.96 100.9 L358.08 101.63 L358.2 102.32 L358.31 102.96 L358.43 103.56 L358.55 104.09 L358.67 104.6 L358.79 105.1 L358.91 105.59 L359.03 106.08 L359.15 106.55 L359.26 107.02 L359.38 107.48 L359.5 107.94 L359.62 108.39 L359.74 108.83 L359.86 109.26 L359.98 109.69 L360.09 110.11 L360.21 110.52 L360.33 110.93 L360.45 111.33 L360.57 111.73 L360.69 112.11 L360.81 112.5 L360.92 112.88 L361.04 113.25 L361.16 113.61 L361.28 113.98 L361.4 114.33 L361.52 114.68 L361.64 115.03 L361.76 115.37 L361.87 115.7 L361.99 116.04 L362.11 116.36 L362.23 116.69 L362.35 117 L362.47 117.32 L362.59 117.63 L362.7 117.93 L362.82 118.23 L362.94 118.53 L363.06 118.83 L363.18 119.12 L363.3 119.41 L363.42 119.69 L363.54 119.97 L363.65 120.25 L363.77 120.53 L363.89 120.8 L364.01 121.07 L364.13 121.34 L364.25 121.61 L364.37 121.87 L364.48 122.14 L364.6 122.4 L364.72 122.66 L364.84 122.93 L364.96 123.19 L365.08 123.45 L365.2 123.71 L365.31 123.96 L365.43 124.22 L365.55 124.47 L365.67 124.72 L365.79 124.97 L365.91 125.22 L366.03 125.47 L366.15 125.72 L366.26 125.96 L366.38 126.21 L366.5 126.45 L366.62 126.69 L366.74 126.92 L366.86 127.16 L366.98 127.39 L367.09 127.63 L367.21 127.86 L367.33 128.08 L367.45 128.31 L367.57 128.53 L367.69 128.75 L367.81 128.97 L367.93 129.19 L368.04 129.41 L368.16 129.62 L368.28 129.83 L368.4 130.04 L368.52 130.24 L368.64 130.44 L368.76 130.64 L368.87 130.84 L368.99 131.04 L369.11 131.23 L369.23 131.42 L369.35 131.61 L369.47 131.79 L369.59 131.97 L369.7 132.15 L369.82 132.33 L369.94 132.5 L370.06 132.67 L370.18 132.84 L370.3 133 L370.42 133.16 L370.54 133.32 L370.65 133.48 L370.77 133.63 L370.89 133.78 L371.01 133.92 L371.13 134.06 L371.25 134.2 L371.37 134.34 L371.48 134.47 L371.6 134.6 L371.72 134.72 L371.84 134.84 L371.96 134.96 L372.08 135.07 L372.2 135.18 L372.31 135.29 L372.83 135.76 L373.35 136.22 L373.87 136.67 L374.39 137.1 L374.91 137.52 L375.43 137.92 L375.95 138.32 L376.47 138.7 L376.99 139.06 L377.51 139.41 L378.03 139.75 L378.55 140.08 L379.06 140.39 L379.58 140.69 L380.1 140.98 L380.62 141.25 L381.14 141.51 L381.66 141.76 L382.18 141.99 L382.7 142.21 L383.22 142.42 L383.74 142.62 L384.26 142.8 L384.78 142.96 L385.3 143.12 L385.81 143.26 L386.33 143.4 L386.85 143.53 L387.37 143.67 L387.89 143.8 L388.41 143.92 L388.93 144.04 L389.45 144.16 L389.97 144.28 L390.49 144.39 L391.01 144.51 L391.53 144.61 L392.05 144.72 L392.56 144.82 L393.08 144.92 L393.6 145.01 L394.12 145.11 L394.64 145.2 L395.16 145.29 L395.68 145.37 L396.2 145.45 L396.72 145.53 L397.24 145.61 L397.76 145.68 L398.28 145.75 L398.8 145.82 L399.31 145.89 L399.83 145.95 L400.35 146.01 L400.87 146.07 L401.39 146.12 L401.91 146.18 L402.43 146.23 L402.95 146.27 L403.47 146.32 L403.99 146.36 L404.51 146.4 L405.03 146.44 L405.55 146.48 L406.06 146.52 L406.58 146.55 L407.1 146.59 L407.62 146.63 L408.14 146.67 L408.66 146.7 L409.18 146.74 L409.7 146.77 L410.22 146.81 L410.74 146.84 L411.26 146.88 L411.78 146.91 L412.29 146.94 L412.81 146.97 L413.33 147.01 L413.85 147.04 L414.37 147.07 L414.89 147.1 L415.41 147.12 L415.93 147.15 L416.45 147.18 L416.97 147.21 L417.49 147.23 L418.01 147.26 L418.53 147.28 L419.04 147.3 L419.56 147.32 L420.08 147.35 L420.6 147.37 L421.12 147.38 L421.64 147.4 L422.16 147.42 L422.68 147.44 L423.2 147.45 L423.72 147.47 L424.24 147.48 L424.76 147.49 L425.28 147.5 L425.79 147.51 L426.31 147.52 L426.83 147.53 L427.35 147.53 L427.87 147.54 L428.39 147.54 L428.91 147.54 L431.81 147.55 L434.71 147.56 L437.62 147.56 L440.52 147.57 L443.42 147.58 L446.32 147.58 L449.23 147.59 L452.13 147.59 L455.03 147.6 L457.93 147.6 L460.84 147.61 L463.74 147.61 L466.64 147.62 L469.54 147.62 L472.44 147.62 L475.35 147.63 L478.25 147.63 L481.15 147.63 L484.05 147.64 L486.96 147.64 L489.86 147.64 L492.76 147.64 L495.66 147.65 L498.57 147.65 L501.47 147.65 L504.37 147.65 L507.27 147.65 L510.17 147.65 L513.08 147.66 L515.98 147.66 L518.88 147.66 L521.78 147.66 L524.69 147.66 L527.59 147.66 L530.49 147.66 L533.39 147.66 L536.3 147.66 L539.2 147.66 L542.1 147.66" stroke="#ff0000" stroke-dasharray="5.92 5.58 5.92 5.58 5.92 5.58 5.92 5.58 5.92 5.58 5.92 5.58 5.92 5.58 6 5.65 6 5.65 6 5.65 6 5.65 6 5.65 6 5.65 6 5.65 6 5.65 6 5.65 6 5.65 6 5.65 6 5.65 6 5.65 6 5.65 6 5.65"/>
<path d="M353.45 54.18 L353.57 53.55 L353.69 52.93 L353.81 52.33 L353.92 51.76 L354.04 51.22 L354.16 50.72 L354.28 50.27 L354.4 49.88 L354.52 49.55 L354.64 49.3 L354.76 49.12 L354.87 49 L354.99 48.88 L355.11 48.78 L355.23 48.67 L355.35 48.58 L355.47 48.5 L355.59 48.42 L355.7 48.36 L355.82 48.3 L355.94 48.26 L356.06 48.23 L356.18 48.21 L356.3 48.21 L356.42 48.23 L356.53 48.28 L356.65 48.35 L356.77 48.44 L356.89 48.56 L357.01 48.68 L357.13 48.82 L357.25 48.96 L357.37 49.11 L357.48 49.25 L357.6 49.4 L357.72 49.53 L357.84 49.66 L357.96 49.77 L358.08 49.86 L358.2 49.93 L358.31 49.98 L358.43 50 L358.55 50 L358.67 49.98 L358.79 49.94 L358.91 49.9 L359.03 49.84 L359.15 49.78 L359.26 49.71 L359.38 49.63 L359.5 49.54 L359.62 49.45 L359.74 49.36 L359.86 49.26 L359.98 49.17 L360.09 49.07 L360.21 48.97 L360.33 48.86 L360.45 48.74 L360.57 48.62 L360.69 48.48 L360.81 48.34 L360.92 48.19 L361.04 48.02 L361.16 47.85 L361.28 47.66 L361.4 47.46 L361.52 47.25 L361.64 47.03 L361.76 46.79 L361.87 46.54 L361.99 46.27 L362.11 45.98 L362.23 45.68 L362.35 45.37 L362.47 45.03 L362.59 44.64 L362.7 44.05 L362.82 43.32 L362.94 42.48 L363.06 41.6 L363.18 40.71 L363.3 39.87 L363.42 39.13 L363.54 38.49 L363.65 37.86 L363.77 37.25 L363.89 36.65 L364.01 36.08 L364.13 35.53 L364.25 35.01 L364.37 34.52 L364.48 34.06 L364.6 33.65 L364.72 33.26 L364.84 32.88 L364.96 32.53 L365.08 32.18 L365.2 31.85 L365.31 31.53 L365.43 31.22 L365.55 30.92 L365.67 30.63 L365.79 30.35 L365.91 30.07 L366.03 29.8 L366.15 29.53 L366.26 29.27 L366.38 29.01 L366.5 28.75 L366.62 28.49 L366.74 28.22 L366.86 27.96 L366.98 27.71 L367.09 27.46 L367.21 27.21 L367.33 26.97 L367.45 26.73 L367.57 26.49 L367.69 26.26 L367.81 26.04 L367.93 25.82 L368.04 25.6 L368.16 25.38 L368.28 25.17 L368.4 24.96 L368.52 24.75 L368.64 24.54 L368.76 24.33 L368.87 24.12 L368.99 23.91 L369.11 23.69 L369.23 23.48 L369.35 23.27 L369.47 23.06 L369.59 22.84 L369.7 22.63 L369.82 22.42 L369.94 22.21 L370.06 22 L370.18 21.79 L370.3 21.58 L370.42 21.38 L370.54 21.17 L370.65 20.97 L370.77 20.77 L370.89 20.57 L371.01 20.37 L371.13 20.18 L371.25 19.99 L371.37 19.8 L371.48 19.61 L371.6 19.43 L371.72 19.25 L371.84 19.07 L371.96 18.89 L372.08 18.72 L372.2 18.56 L372.31 18.39 L372.83 17.72 L373.35 17.14 L373.87 16.66 L374.39 16.27 L374.91 15.89 L375.43 15.53 L375.95 15.18 L376.47 14.85 L376.99 14.54 L377.51 14.24 L378.03 13.95 L378.55 13.68 L379.06 13.43 L379.58 13.2 L380.1 12.98 L380.62 12.77 L381.14 12.59 L381.66 12.42 L382.18 12.26 L382.7 12.13 L383.22 12.01 L383.74 11.9 L384.26 11.81 L384.78 11.71 L385.3 11.62 L385.81 11.53 L386.33 11.44 L386.85 11.35 L387.37 11.27 L387.89 11.19 L388.41 11.12 L388.93 11.05 L389.45 10.98 L389.97 10.91 L390.49 10.86 L391.01 10.8 L391.53 10.75 L392.05 10.71 L392.56 10.67 L393.08 10.64 L393.6 10.62 L394.12 10.6 L394.64 10.58 L395.16 10.58 L395.68 10.58 L396.2 10.58 L396.72 10.59 L397.24 10.6 L397.76 10.61 L398.28 10.62 L398.8 10.63 L399.31 10.65 L399.83 10.67 L400.35 10.68 L400.87 10.71 L401.39 10.73 L401.91 10.75 L402.43 10.78 L402.95 10.8 L403.47 10.83 L403.99 10.85 L404.51 10.88 L405.03 10.91 L405.55 10.94 L406.06 10.97 L406.58 10.99 L407.1 11.02 L407.62 11.05 L408.14 11.08 L408.66 11.11 L409.18 11.13 L409.7 11.16 L410.22 11.18 L410.74 11.21 L411.26 11.24 L411.78 11.27 L412.29 11.31 L412.81 11.34 L413.33 11.38 L413.85 11.41 L414.37 11.45 L414.89 11.49 L415.41 11.53 L415.93 11.56 L416.45 11.6 L416.97 11.64 L417.49 11.67 L418.01 11.71 L418.53 11.74 L419.04 11.77 L419.56 11.8 L420.08 11.83 L420.6 11.86 L421.12 11.88 L421.64 11.9 L422.16 11.91 L422.68 11.93 L423.2 11.94 L423.72 11.95 L424.24 11.96 L424.76 11.97 L425.28 11.98 L425.79 12 L426.31 12.01 L426.83 12.02 L427.35 12.03 L427.87 12.04 L428.39 12.05 L428.91 12.06 L431.81 12.11 L434.71 12.15 L437.62 12.18 L440.52 12.21 L443.42 12.22 L446.32 12.22 L449.23 12.22 L452.13 12.22 L455.03 12.22 L457.93 12.22 L460.84 12.22 L463.74 12.22 L466.64 12.22 L469.54 12.22 L472.44 12.22 L475.35 12.22 L478.25 12.22 L481.15 12.22 L484.05 12.22 L486.96 12.22 L489.86 12.22 L492.76 12.22 L495.66 12.22 L498.57 12.22 L501.47 12.22 L504.37 12.22 L507.27 12.22 L510.17 12.22 L513.08 12.22 L515.98 12.22 L518.88 12.22 L521.78 12.22 L524.69 12.22 L527.59 12.22 L530.49 12.22 L533.39 12.22 L536.3 12.22 L539.2 12.22 L542.1 12.22" stroke="#ff00ff" stroke-dasharray="5.92 5.58 5.92 5.58 5.92 5.58 5.92 5.58 5.92 5.58 6 5.65 6 5.65 6 5.65 6 5.65 6 5.65 6 5.65 6 5.65 6 5.65 6 5.65 6 5.65 6 5.65 6 5.65 6 5.65 6 5.65 6 5.65"/>
<path d="M353.45 71.8 L353.57 71.97 L353.69 72.14 L353.81 72.32 L353.92 72.51 L354.04 72.7 L354.16 72.9 L354.28 73.1 L354.4 73.31 L354.52 73.52 L354.64 73.73 L354.76 73.95 L354.87 74.18 L354.99 74.41 L355.11 74.64 L355.23 74.88 L355.35 75.12 L355.47 75.36 L355.59 75.61 L355.7 75.86 L355.82 76.11 L355.94 76.37 L356.06 76.62 L356.18 76.88 L356.3 77.14 L356.42 77.41 L356.53 77.68 L356.65 77.95 L356.77 78.24 L356.89 78.54 L357.01 78.84 L357.13 79.16 L357.25 79.5 L357.37 79.85 L357.48 80.21 L357.6 80.6 L357.72 81.01 L357.84 81.47 L357.96 81.99 L358.08 82.56 L358.2 83.17 L358.31 83.82 L358.43 84.48 L358.55 85.14 L358.67 85.81 L358.79 86.46 L358.91 87.09 L359.03 87.69 L359.15 88.24 L359.26 88.78 L359.38 89.32 L359.5 89.86 L359.62 90.39 L359.74 90.92 L359.86 91.45 L359.98 91.98 L360.09 92.51 L360.21 93.03 L360.33 93.55 L360.45 94.07 L360.57 94.58 L360.69 95.09 L360.81 95.6 L360.92 96.1 L361.04 96.6 L361.16 97.1 L361.28 97.59 L361.4 98.08 L361.52 98.57 L361.64 99.05 L361.76 99.53 L361.87 100 L361.99 100.47 L362.11 100.93 L362.23 101.39 L362.35 101.85 L362.47 102.3 L362.59 102.74 L362.7 103.18 L362.82 103.61 L362.94 104.04 L363.06 104.46 L363.18 104.88 L363.3 105.29 L363.42 105.7 L363.54 106.09 L363.65 106.49 L363.77 106.87 L363.89 107.25 L364.01 107.63 L364.13 108 L364.25 108.36 L364.37 108.73 L364.48 109.1 L364.6 109.46 L364.72 109.82 L364.84 110.19 L364.96 110.55 L365.08 110.9 L365.2 111.26 L365.31 111.61 L365.43 111.96 L365.55 112.31 L365.67 112.66 L365.79 113 L365.91 113.34 L366.03 113.67 L366.15 114.01 L366.26 114.34 L366.38 114.66 L366.5 114.98 L366.62 115.3 L366.74 115.61 L366.86 115.92 L366.98 116.23 L367.09 116.53 L367.21 116.82 L367.33 117.12 L367.45 117.4 L367.57 117.68 L367.69 117.96 L367.81 118.23 L367.93 118.49 L368.04 118.75 L368.16 119 L368.28 119.25 L368.4 119.49 L368.52 119.72 L368.64 119.95 L368.76 120.17 L368.87 120.38 L368.99 120.59 L369.11 120.78 L369.23 120.98 L369.35 121.16 L369.47 121.34 L369.59 121.53 L369.7 121.71 L369.82 121.89 L369.94 122.07 L370.06 122.24 L370.18 122.42 L370.3 122.59 L370.42 122.77 L370.54 122.94 L370.65 123.11 L370.77 123.28 L370.89 123.45 L371.01 123.62 L371.13 123.78 L371.25 123.95 L371.37 124.11 L371.48 124.27 L371.6 124.43 L371.72 124.59 L371.84 124.75 L371.96 124.9 L372.08 125.05 L372.2 125.21 L372.31 125.36 L372.83 125.99 L373.35 126.59 L373.87 127.15 L374.39 127.67 L374.91 128.15 L375.43 128.58 L375.95 128.96 L376.47 129.29 L376.99 129.56 L377.51 129.78 L378.03 129.97 L378.55 130.16 L379.06 130.34 L379.58 130.51 L380.1 130.68 L380.62 130.83 L381.14 130.98 L381.66 131.13 L382.18 131.26 L382.7 131.39 L383.22 131.52 L383.74 131.63 L384.26 131.75 L384.78 131.85 L385.3 131.95 L385.81 132.05 L386.33 132.14 L386.85 132.22 L387.37 132.3 L387.89 132.37 L388.41 132.44 L388.93 132.51 L389.45 132.57 L389.97 132.63 L390.49 132.68 L391.01 132.73 L391.53 132.78 L392.05 132.82 L392.56 132.87 L393.08 132.91 L393.6 132.96 L394.12 133 L394.64 133.04 L395.16 133.08 L395.68 133.13 L396.2 133.16 L396.72 133.2 L397.24 133.24 L397.76 133.28 L398.28 133.31 L398.8 133.35 L399.31 133.38 L399.83 133.41 L400.35 133.45 L400.87 133.48 L401.39 133.51 L401.91 133.54 L402.43 133.57 L402.95 133.59 L403.47 133.62 L403.99 133.64 L404.51 133.67 L405.03 133.69 L405.55 133.72 L406.06 133.74 L406.58 133.76 L407.1 133.78 L407.62 133.8 L408.14 133.81 L408.66 133.83 L409.18 133.84 L409.7 133.86 L410.22 133.87 L410.74 133.89 L411.26 133.9 L411.78 133.91 L412.29 133.92 L412.81 133.92 L413.33 133.93 L413.85 133.94 L414.37 133.95 L414.89 133.96 L415.41 133.96 L415.93 133.97 L416.45 133.98 L416.97 133.99 L417.49 133.99 L418.01 134 L418.53 134.01 L419.04 134.02 L419.56 134.02 L420.08 134.03 L420.6 134.04 L421.12 134.04 L421.64 134.05 L422.16 134.06 L422.68 134.06 L423.2 134.07 L423.72 134.07 L424.24 134.08 L424.76 134.09 L425.28 134.09 L425.79 134.1 L426.31 134.1 L426.83 134.11 L427.35 134.11 L427.87 134.12 L428.39 134.12 L428.91 134.13 L431.81 134.15 L434.71 134.18 L437.62 134.19 L440.52 134.21 L443.42 134.22 L446.32 134.22 L449.23 134.22 L452.13 134.22 L455.03 134.22 L457.93 134.22 L460.84 134.22 L463.74 134.22 L466.64 134.22 L469.54 134.22 L472.44 134.22 L475.35 134.22 L478.25 134.22 L481.15 134.22 L484.05 134.22 L486.96 134.22 L489.86 134.22 L492.76 134.22 L495.66 134.22 L498.57 134.22 L501.47 134.22 L504.37 134.22 L507.27 134.22 L510.17 134.22 L513.08 134.22 L515.98 134.22 L518.88 134.22 L521.78 134.22 L524.69 134.22 L527.59 134.22 L530.49 134.22 L533.39 134.22 L536.3 134.22 L539.2 134.22 L542.1 134.22" stroke="#000000" stroke-dasharray="6.08 1.82 2.13 1.77 6.08 1.82 2.13 1.77 6.08 1.82 2.13 1.77 6.08 1.82 2.13 1.77 6.08 1.82 2.13 1.77 6.08 1.82 2.13 1.77 6 1.8 2.1 1.75 6 1.8 2.1 1.75 6 1.8 2.1 1.75 6 1.8 2.1 1.75 6 1.8 2.1 1.75 6 1.8 2.1 1.75 6 1.8 2.1 1.75 6 1.8 2.1 1.75 6 1.8 2.1 1.75 6 1.8 2.1 1.75 6 1.8 2.1 1.75 6 1.8 2.1 1.75 6 1.8 2.1 1.75 6 1.8 2.1 1.75 6 1.8 2.1 1.75"/>
<path d="M353.45 68.52 L353.57 68.51 L353.69 68.5 L353.81 68.48 L353.92 68.46 L354.04 68.43 L354.16 68.39 L354.28 68.35 L354.4 68.3 L354.52 68.25 L354.64 68.19 L354.76 68.08 L354.87 67.93 L354.99 67.74 L355.11 67.5 L355.23 67.22 L355.35 66.91 L355.47 66.56 L355.59 66.18 L355.7 65.77 L355.82 65.33 L355.94 64.85 L356.06 64.11 L356.18 63.15 L356.3 62.08 L356.42 61.01 L356.53 60.05 L356.65 59.26 L356.77 58.54 L356.89 57.86 L357.01 57.21 L357.13 56.58 L357.25 55.94 L357.37 55.29 L357.48 54.61 L357.6 53.89 L357.72 53.1 L357.84 52.21 L357.96 51.22 L358.08 50.18 L358.2 49.11 L358.31 48.05 L358.43 47.03 L358.55 46.1 L358.67 45.29 L358.79 44.61 L358.91 43.99 L359.03 43.39 L359.15 42.83 L359.26 42.3 L359.38 41.78 L359.5 41.3 L359.62 40.83 L359.74 40.38 L359.86 39.94 L359.98 39.51 L360.09 39.1 L360.21 38.69 L360.33 38.29 L360.45 37.88 L360.57 37.48 L360.69 37.07 L360.81 36.67 L360.92 36.26 L361.04 35.86 L361.16 35.47 L361.28 35.08 L361.4 34.69 L361.52 34.31 L361.64 33.94 L361.76 33.58 L361.87 33.22 L361.99 32.88 L362.11 32.55 L362.23 32.22 L362.35 31.91 L362.47 31.62 L362.59 31.33 L362.7 31.07 L362.82 30.81 L362.94 30.57 L363.06 30.33 L363.18 30.1 L363.3 29.87 L363.42 29.65 L363.54 29.43 L363.65 29.22 L363.77 29.02 L363.89 28.81 L364.01 28.62 L364.13 28.43 L364.25 28.24 L364.37 28.06 L364.48 27.88 L364.6 27.7 L364.72 27.53 L364.84 27.37 L364.96 27.2 L365.08 27.05 L365.2 26.89 L365.31 26.74 L365.43 26.59 L365.55 26.45 L365.67 26.31 L365.79 26.17 L365.91 26.03 L366.03 25.9 L366.15 25.77 L366.26 25.63 L366.38 25.51 L366.5 25.38 L366.62 25.25 L366.74 25.13 L366.86 25.01 L366.98 24.89 L367.09 24.77 L367.21 24.66 L367.33 24.54 L367.45 24.43 L367.57 24.32 L367.69 24.21 L367.81 24.11 L367.93 24 L368.04 23.9 L368.16 23.8 L368.28 23.7 L368.4 23.6 L368.52 23.51 L368.64 23.42 L368.76 23.32 L368.87 23.23 L368.99 23.15 L369.11 23.06 L369.23 22.97 L369.35 22.89 L369.47 22.81 L369.59 22.73 L369.7 22.65 L369.82 22.58 L369.94 22.5 L370.06 22.42 L370.18 22.35 L370.3 22.27 L370.42 22.2 L370.54 22.12 L370.65 22.05 L370.77 21.98 L370.89 21.9 L371.01 21.83 L371.13 21.76 L371.25 21.69 L371.37 21.62 L371.48 21.55 L371.6 21.48 L371.72 21.42 L371.84 21.35 L371.96 21.29 L372.08 21.22 L372.2 21.16 L372.31 21.1 L372.83 20.84 L373.35 20.61 L373.87 20.41 L374.39 20.24 L374.91 20.1 L375.43 19.98 L375.95 19.85 L376.47 19.73 L376.99 19.62 L377.51 19.5 L378.03 19.39 L378.55 19.29 L379.06 19.18 L379.58 19.08 L380.1 18.98 L380.62 18.89 L381.14 18.8 L381.66 18.72 L382.18 18.63 L382.7 18.56 L383.22 18.49 L383.74 18.42 L384.26 18.36 L384.78 18.3 L385.3 18.25 L385.81 18.2 L386.33 18.16 L386.85 18.13 L387.37 18.1 L387.89 18.08 L388.41 18.06 L388.93 18.05 L389.45 18.04 L389.97 18.05 L390.49 18.05 L391.01 18.06 L391.53 18.07 L392.05 18.08 L392.56 18.09 L393.08 18.11 L393.6 18.13 L394.12 18.15 L394.64 18.17 L395.16 18.19 L395.68 18.22 L396.2 18.24 L396.72 18.27 L397.24 18.3 L397.76 18.33 L398.28 18.36 L398.8 18.39 L399.31 18.42 L399.83 18.45 L400.35 18.48 L400.87 18.52 L401.39 18.55 L401.91 18.58 L402.43 18.61 L402.95 18.64 L403.47 18.68 L403.99 18.71 L404.51 18.74 L405.03 18.76 L405.55 18.79 L406.06 18.82 L406.58 18.85 L407.1 18.87 L407.62 18.89 L408.14 18.91 L408.66 18.93 L409.18 18.95 L409.7 18.97 L410.22 18.98 L410.74 19 L411.26 19.02 L411.78 19.04 L412.29 19.06 L412.81 19.07 L413.33 19.09 L413.85 19.11 L414.37 19.13 L414.89 19.15 L415.41 19.16 L415.93 19.18 L416.45 19.2 L416.97 19.22 L417.49 19.23 L418.01 19.25 L418.53 19.27 L419.04 19.29 L419.56 19.31 L420.08 19.32 L420.6 19.34 L421.12 19.36 L421.64 19.37 L422.16 19.39 L422.68 19.41 L423.2 19.42 L423.72 19.44 L424.24 19.46 L424.76 19.47 L425.28 19.49 L425.79 19.51 L426.31 19.52 L426.83 19.54 L427.35 19.55 L427.87 19.57 L428.39 19.58 L428.91 19.59 L431.81 19.67 L434.71 19.73 L437.62 19.78 L440.52 19.82 L443.42 19.83 L446.32 19.84 L449.23 19.84 L452.13 19.84 L455.03 19.84 L457.93 19.84 L460.84 19.84 L463.74 19.84 L466.64 19.84 L469.54 19.84 L472.44 19.84 L475.35 19.84 L478.25 19.84 L481.15 19.84 L484.05 19.84 L486.96 19.84 L489.86 19.84 L492.76 19.84 L495.66 19.84 L498.57 19.84 L501.47 19.84 L504.37 19.84 L507.27 19.84 L510.17 19.84 L513.08 19.84 L515.98 19.84 L518.88 19.84 L521.78 19.84 L524.69 19.84 L527.59 19.84 L530.49 19.84 L533.39 19.84 L536.3 19.84 L539.2 19.84 L542.1 19.84" stroke="#0000ff" stroke-dasharray="6 1.8 2.1 1.75 6 1.8 2.1 1.75 6 1.8 2.1 1.75 6 1.8 2.1 1.75 6 1.8 2.1 1.75 6 1.8 2.1 1.75 6 1.8 2.1 1.75 6 1.8 2.1 1.75 6 1.8 2.1 1.75 6 1.8 2.1 1.75 6 1.8 2.1 1.75 6 1.8 2.1 1.75 6 1.8 2.1 1.75 6 1.8 2.1 1.75 6 1.8 2.1 1.75 6 1.8 2.1 1.75 6 1.8 2.1 1.75 6 1.8 2.1 1.75 6 1.8 2.1 1.75 6 1.8 2.1 1.75 6 1.8 2.1 1.75"/>
</g></g>
<g font-size="7.7">
<text transform="translate(353.45 184.2) scale(0.82 1)" text-anchor="middle">0</text>
<text transform="translate(391.18 184.2) scale(0.82 1)" text-anchor="middle">20</text>
<text transform="translate(428.91 184.2) scale(0.82 1)" text-anchor="middle">40</text>
<text transform="translate(466.64 184.2) scale(0.82 1)" text-anchor="middle">60</text>
<text transform="translate(504.37 184.2) scale(0.82 1)" text-anchor="middle">80</text>
<text transform="translate(542.1 184.2) scale(0.82 1)" text-anchor="middle">100</text>
<text transform="translate(350.85 10.3) scale(0.82 1)" text-anchor="end">20</text>
<text transform="translate(350.85 26.95) scale(0.82 1)" text-anchor="end">15</text>
<text transform="translate(350.85 43.6) scale(0.82 1)" text-anchor="end">10</text>
<text transform="translate(350.85 60.25) scale(0.82 1)" text-anchor="end">5</text>
<text transform="translate(350.85 76.9) scale(0.82 1)" text-anchor="end">0</text>
<text transform="translate(350.85 93.55) scale(0.82 1)" text-anchor="end">-5</text>
<text transform="translate(350.85 110.2) scale(0.82 1)" text-anchor="end">-10</text>
<text transform="translate(350.85 126.85) scale(0.82 1)" text-anchor="end">-15</text>
<text transform="translate(350.85 143.5) scale(0.82 1)" text-anchor="end">-20</text>
<text transform="translate(350.85 160.15) scale(0.82 1)" text-anchor="end">-25</text>
<text transform="translate(350.85 176.8) scale(0.82 1)" text-anchor="end">-30</text>
</g>
<text transform="translate(447.77 194.1) scale(0.86 1)" text-anchor="middle" font-size="8.03">t</text>
<text transform="translate(335.6 90.6) rotate(-90) scale(1 0.86)" text-anchor="middle" font-size="8.03">e<tspan font-size="5.2" dy="2.8">i2</tspan><tspan dy="-2.8">(t,0)</tspan></text>
<rect x="496" y="11.9" width="42" height="56.6" fill="#fff" stroke="#8c8c8c" stroke-width="0.8"/>
<path d="M497.8 18.36 H515.4" stroke="#00ff00" stroke-width="1.85" fill="none"/>
<text transform="translate(516.5 20.06) scale(0.86 1)" font-size="6.6">e<tspan font-size="5" dx="0.45" dy="2.5">12</tspan><tspan dx="0.6" dy="-2.5">(t,0)</tspan></text>
<path d="M497.8 29.28 H515.4" stroke="#ff0000" stroke-width="1.85" fill="none" stroke-dasharray="6 5.65"/>
<text transform="translate(516.5 30.98) scale(0.86 1)" font-size="6.6">e<tspan font-size="5" dx="0.45" dy="2.5">22</tspan><tspan dx="0.6" dy="-2.5">(t,0)</tspan></text>
<path d="M497.8 40.2 H515.4" stroke="#ff00ff" stroke-width="1.85" fill="none" stroke-dasharray="6 5.65"/>
<text transform="translate(516.5 41.9) scale(0.86 1)" font-size="6.6">e<tspan font-size="5" dx="0.45" dy="2.5">32</tspan><tspan dx="0.6" dy="-2.5">(t,0)</tspan></text>
<path d="M497.8 51.12 H515.4" stroke="#000000" stroke-width="1.85" fill="none" stroke-dasharray="6 1.8 2.1 1.75"/>
<text transform="translate(516.5 52.82) scale(0.86 1)" font-size="6.6">e<tspan font-size="5" dx="0.45" dy="2.5">42</tspan><tspan dx="0.6" dy="-2.5">(t,0)</tspan></text>
<path d="M497.8 62.04 H515.4" stroke="#0000ff" stroke-width="1.85" fill="none" stroke-dasharray="6 1.8 2.1 1.75"/>
<text transform="translate(516.5 63.74) scale(0.86 1)" font-size="6.6">e<tspan font-size="5" dx="0.45" dy="2.5">52</tspan><tspan dx="0.6" dy="-2.5">(t,0)</tspan></text>
</g>
<g id="plot3">
<clipPath id="c2"><rect x="186.3" y="197.8" width="192.85" height="167.8"/></clipPath>
<path d="M186.9 365 v-2.2 M186.9 198.4 v2.2 M225.23 365 v-2.2 M225.23 198.4 v2.2 M263.56 365 v-2.2 M263.56 198.4 v2.2 M301.89 365 v-2.2 M301.89 198.4 v2.2 M340.22 365 v-2.2 M340.22 198.4 v2.2 M378.55 365 v-2.2 M378.55 198.4 v2.2 M186.9 198.4 h2.2 M378.55 198.4 h-2.2 M186.9 219.22 h2.2 M378.55 219.22 h-2.2 M186.9 240.05 h2.2 M378.55 240.05 h-2.2 M186.9 260.88 h2.2 M378.55 260.88 h-2.2 M186.9 281.7 h2.2 M378.55 281.7 h-2.2 M186.9 302.52 h2.2 M378.55 302.52 h-2.2 M186.9 323.35 h2.2 M378.55 323.35 h-2.2 M186.9 344.18 h2.2 M378.55 344.18 h-2.2 M186.9 365 h2.2 M378.55 365 h-2.2" stroke="#6a6a6a" stroke-width="0.7" fill="none"/>
<path d="M186.9 198 V365.4" stroke="#5c5c5c" stroke-width="0.8" fill="none"/>
<path d="M186.5 198.4 H378.95 M378.55 198 V365.4 M186.5 365 H378.95" stroke="#5c5c5c" stroke-width="0.8" fill="none"/>
<g clip-path="url(#c2)"><g transform="scale(1 1.115)" fill="none" stroke-width="1.85" stroke-linejoin="miter" stroke-miterlimit="3">
<path d="M186.9 236.96 L187.02 236.05 L187.14 235.16 L187.26 234.29 L187.38 233.44 L187.5 232.62 L187.62 231.84 L187.74 231.09 L187.86 230.38 L187.98 229.7 L188.11 229.08 L188.23 228.5 L188.35 227.97 L188.47 227.5 L188.59 227.08 L188.71 226.71 L188.83 226.35 L188.95 225.98 L189.07 225.63 L189.19 225.29 L189.31 224.96 L189.43 224.65 L189.55 224.37 L189.67 224.1 L189.79 223.87 L189.91 223.67 L190.03 223.5 L190.15 223.37 L190.27 223.28 L190.4 223.23 L190.52 223.24 L190.64 223.3 L190.76 223.4 L190.88 223.55 L191 223.74 L191.12 223.97 L191.24 224.24 L191.36 224.53 L191.48 224.85 L191.6 225.2 L191.72 225.56 L191.84 225.94 L191.96 226.33 L192.08 226.74 L192.2 227.14 L192.32 227.55 L192.44 227.95 L192.57 228.35 L192.69 228.74 L192.81 229.11 L192.93 229.47 L193.05 229.81 L193.17 230.15 L193.29 230.51 L193.41 230.89 L193.53 231.28 L193.65 231.68 L193.77 232.08 L193.89 232.48 L194.01 232.88 L194.13 233.27 L194.25 233.65 L194.37 234.01 L194.49 234.35 L194.61 234.66 L194.73 234.95 L194.86 235.2 L194.98 235.41 L195.1 235.62 L195.22 235.84 L195.34 236.04 L195.46 236.22 L195.58 236.38 L195.7 236.5 L195.82 236.57 L195.94 236.58 L196.06 236.56 L196.18 236.5 L196.3 236.42 L196.42 236.33 L196.54 236.21 L196.66 236.09 L196.78 235.95 L196.9 235.82 L197.02 235.68 L197.15 235.55 L197.27 235.4 L197.39 235.22 L197.51 235.04 L197.63 234.84 L197.75 234.63 L197.87 234.41 L197.99 234.19 L198.11 233.96 L198.23 233.74 L198.35 233.51 L198.47 233.29 L198.59 233.07 L198.71 232.87 L198.83 232.67 L198.95 232.48 L199.07 232.28 L199.19 232.08 L199.32 231.88 L199.44 231.67 L199.56 231.47 L199.68 231.27 L199.8 231.07 L199.92 230.87 L200.04 230.67 L200.16 230.47 L200.28 230.27 L200.4 230.08 L200.52 229.89 L200.64 229.71 L200.76 229.53 L200.88 229.35 L201 229.18 L201.12 229.02 L201.24 228.86 L201.36 228.7 L201.48 228.56 L201.61 228.42 L201.73 228.29 L201.85 228.16 L201.97 228.04 L202.09 227.92 L202.21 227.79 L202.33 227.67 L202.45 227.56 L202.57 227.44 L202.69 227.33 L202.81 227.22 L202.93 227.11 L203.05 227 L203.17 226.89 L203.29 226.79 L203.41 226.69 L203.53 226.58 L203.65 226.49 L203.77 226.39 L203.9 226.29 L204.02 226.2 L204.14 226.1 L204.26 226.01 L204.38 225.92 L204.5 225.84 L204.62 225.75 L204.74 225.66 L204.86 225.58 L204.98 225.5 L205.1 225.42 L205.22 225.34 L205.34 225.26 L205.46 225.18 L205.58 225.11 L205.7 225.03 L205.82 224.96 L205.94 224.89 L206.06 224.82 L206.59 224.52 L207.12 224.23 L207.65 223.96 L208.17 223.7 L208.7 223.45 L209.23 223.21 L209.76 222.98 L210.28 222.77 L210.81 222.56 L211.34 222.36 L211.87 222.17 L212.39 221.99 L212.92 221.81 L213.45 221.64 L213.98 221.47 L214.5 221.31 L215.03 221.16 L215.56 221.01 L216.09 220.87 L216.61 220.73 L217.14 220.59 L217.67 220.46 L218.2 220.34 L218.72 220.21 L219.25 220.1 L219.78 219.98 L220.31 219.87 L220.83 219.75 L221.36 219.64 L221.89 219.53 L222.42 219.43 L222.94 219.32 L223.47 219.21 L224 219.11 L224.53 219.01 L225.05 218.91 L225.58 218.81 L226.11 218.71 L226.64 218.61 L227.16 218.52 L227.69 218.42 L228.22 218.33 L228.75 218.23 L229.27 218.14 L229.8 218.05 L230.33 217.96 L230.86 217.87 L231.38 217.79 L231.91 217.7 L232.44 217.62 L232.97 217.53 L233.49 217.45 L234.02 217.37 L234.55 217.28 L235.08 217.2 L235.6 217.12 L236.13 217.04 L236.66 216.97 L237.19 216.89 L237.71 216.81 L238.24 216.74 L238.77 216.66 L239.3 216.59 L239.82 216.51 L240.35 216.44 L240.88 216.37 L241.41 216.29 L241.93 216.22 L242.46 216.15 L242.99 216.08 L243.52 216 L244.04 215.93 L244.57 215.85 L245.1 215.78 L245.63 215.7 L246.15 215.62 L246.68 215.55 L247.21 215.47 L247.74 215.4 L248.26 215.32 L248.79 215.25 L249.32 215.17 L249.85 215.1 L250.37 215.03 L250.9 214.96 L251.43 214.89 L251.96 214.83 L252.48 214.76 L253.01 214.7 L253.54 214.64 L254.07 214.59 L254.59 214.53 L255.12 214.48 L255.65 214.43 L256.18 214.39 L256.7 214.34 L257.23 214.31 L257.76 214.27 L258.29 214.24 L258.81 214.21 L259.34 214.19 L259.87 214.17 L260.4 214.16 L260.92 214.14 L261.45 214.13 L261.98 214.11 L262.51 214.1 L263.03 214.08 L263.56 214.07 L266.51 214 L269.46 213.93 L272.41 213.88 L275.35 213.84 L278.3 213.81 L281.25 213.8 L284.2 213.8 L287.15 213.8 L290.1 213.8 L293.04 213.8 L295.99 213.8 L298.94 213.8 L301.89 213.8 L304.84 213.8 L307.79 213.8 L310.74 213.8 L313.68 213.8 L316.63 213.8 L319.58 213.8 L322.53 213.8 L325.48 213.8 L328.43 213.8 L331.37 213.8 L334.32 213.8 L337.27 213.8 L340.22 213.8 L343.17 213.8 L346.12 213.8 L349.07 213.8 L352.01 213.8 L354.96 213.8 L357.91 213.8 L360.86 213.8 L363.81 213.8 L366.76 213.8 L369.7 213.8 L372.65 213.8 L375.6 213.8 L378.55 213.8" stroke="#00ff00"/>
<path d="M186.9 260.49 L187.02 260.5 L187.14 260.51 L187.26 260.53 L187.38 260.57 L187.5 260.61 L187.62 260.66 L187.74 260.71 L187.86 260.78 L187.98 260.85 L188.11 260.93 L188.23 261.02 L188.35 261.11 L188.47 261.21 L188.59 261.31 L188.71 261.42 L188.83 261.53 L188.95 261.65 L189.07 261.78 L189.19 261.97 L189.31 262.23 L189.43 262.56 L189.55 262.94 L189.67 263.37 L189.79 263.84 L189.91 264.35 L190.03 264.9 L190.15 265.46 L190.27 266.05 L190.4 266.65 L190.52 267.25 L190.64 267.86 L190.76 268.46 L190.88 269.05 L191 269.62 L191.12 270.17 L191.24 270.69 L191.36 271.2 L191.48 271.7 L191.6 272.2 L191.72 272.7 L191.84 273.21 L191.96 273.73 L192.08 274.25 L192.2 274.79 L192.32 275.34 L192.44 275.91 L192.57 276.5 L192.69 277.11 L192.81 277.77 L192.93 278.46 L193.05 279.18 L193.17 279.94 L193.29 280.71 L193.41 281.5 L193.53 282.29 L193.65 283.09 L193.77 283.88 L193.89 284.67 L194.01 285.43 L194.13 286.17 L194.25 286.89 L194.37 287.57 L194.49 288.23 L194.61 288.9 L194.73 289.57 L194.86 290.22 L194.98 290.86 L195.1 291.47 L195.22 292.04 L195.34 292.56 L195.46 293.04 L195.58 293.45 L195.7 293.84 L195.82 294.21 L195.94 294.56 L196.06 294.9 L196.18 295.22 L196.3 295.53 L196.42 295.82 L196.54 296.11 L196.66 296.38 L196.78 296.65 L196.9 296.91 L197.02 297.17 L197.15 297.42 L197.27 297.66 L197.39 297.9 L197.51 298.15 L197.63 298.39 L197.75 298.63 L197.87 298.87 L197.99 299.11 L198.11 299.35 L198.23 299.58 L198.35 299.81 L198.47 300.03 L198.59 300.25 L198.71 300.47 L198.83 300.69 L198.95 300.9 L199.07 301.11 L199.19 301.32 L199.32 301.52 L199.44 301.72 L199.56 301.92 L199.68 302.12 L199.8 302.31 L199.92 302.5 L200.04 302.69 L200.16 302.88 L200.28 303.06 L200.4 303.24 L200.52 303.42 L200.64 303.6 L200.76 303.77 L200.88 303.95 L201 304.13 L201.12 304.31 L201.24 304.49 L201.36 304.67 L201.48 304.85 L201.61 305.02 L201.73 305.2 L201.85 305.38 L201.97 305.56 L202.09 305.73 L202.21 305.91 L202.33 306.08 L202.45 306.25 L202.57 306.43 L202.69 306.59 L202.81 306.76 L202.93 306.93 L203.05 307.09 L203.17 307.25 L203.29 307.4 L203.41 307.56 L203.53 307.71 L203.65 307.86 L203.77 308 L203.9 308.15 L204.02 308.28 L204.14 308.42 L204.26 308.55 L204.38 308.67 L204.5 308.8 L204.62 308.91 L204.74 309.03 L204.86 309.13 L204.98 309.24 L205.1 309.33 L205.22 309.43 L205.34 309.51 L205.46 309.59 L205.58 309.67 L205.7 309.75 L205.82 309.82 L205.94 309.89 L206.06 309.97 L206.59 310.27 L207.12 310.56 L207.65 310.84 L208.17 311.1 L208.7 311.34 L209.23 311.57 L209.76 311.79 L210.28 311.99 L210.81 312.18 L211.34 312.36 L211.87 312.53 L212.39 312.69 L212.92 312.85 L213.45 312.99 L213.98 313.13 L214.5 313.26 L215.03 313.38 L215.56 313.5 L216.09 313.62 L216.61 313.73 L217.14 313.84 L217.67 313.95 L218.2 314.05 L218.72 314.15 L219.25 314.24 L219.78 314.34 L220.31 314.42 L220.83 314.51 L221.36 314.59 L221.89 314.67 L222.42 314.74 L222.94 314.82 L223.47 314.89 L224 314.95 L224.53 315.02 L225.05 315.08 L225.58 315.13 L226.11 315.19 L226.64 315.24 L227.16 315.29 L227.69 315.34 L228.22 315.39 L228.75 315.43 L229.27 315.48 L229.8 315.53 L230.33 315.57 L230.86 315.61 L231.38 315.65 L231.91 315.69 L232.44 315.73 L232.97 315.77 L233.49 315.81 L234.02 315.84 L234.55 315.88 L235.08 315.91 L235.6 315.94 L236.13 315.97 L236.66 316 L237.19 316.03 L237.71 316.05 L238.24 316.08 L238.77 316.1 L239.3 316.12 L239.82 316.14 L240.35 316.16 L240.88 316.18 L241.41 316.2 L241.93 316.22 L242.46 316.24 L242.99 316.26 L243.52 316.27 L244.04 316.29 L244.57 316.31 L245.1 316.33 L245.63 316.35 L246.15 316.37 L246.68 316.38 L247.21 316.4 L247.74 316.42 L248.26 316.43 L248.79 316.45 L249.32 316.47 L249.85 316.48 L250.37 316.5 L250.9 316.52 L251.43 316.53 L251.96 316.55 L252.48 316.56 L253.01 316.58 L253.54 316.59 L254.07 316.61 L254.59 316.62 L255.12 316.64 L255.65 316.65 L256.18 316.66 L256.7 316.68 L257.23 316.69 L257.76 316.7 L258.29 316.71 L258.81 316.73 L259.34 316.74 L259.87 316.75 L260.4 316.76 L260.92 316.77 L261.45 316.78 L261.98 316.79 L262.51 316.8 L263.03 316.81 L263.56 316.82 L266.51 316.86 L269.46 316.88 L272.41 316.89 L275.35 316.9 L278.3 316.9 L281.25 316.9 L284.2 316.9 L287.15 316.9 L290.1 316.9 L293.04 316.9 L295.99 316.9 L298.94 316.9 L301.89 316.9 L304.84 316.9 L307.79 316.9 L310.74 316.9 L313.68 316.9 L316.63 316.9 L319.58 316.9 L322.53 316.9 L325.48 316.9 L328.43 316.9 L331.37 316.9 L334.32 316.9 L337.27 316.9 L340.22 316.9 L343.17 316.9 L346.12 316.9 L349.07 316.9 L352.01 316.9 L354.96 316.9 L357.91 316.9 L360.86 316.9 L363.81 316.9 L366.76 316.9 L369.7 316.9 L372.65 316.9 L375.6 316.9 L378.55 316.9" stroke="#ff0000" stroke-dasharray="6.11 5.75 6.11 5.75 6.11 5.75 6.11 5.75 6.11 5.75 6 5.65 6 5.65 6 5.65 6 5.65 6 5.65 6 5.65 6 5.65 6 5.65 6 5.65 6 5.65 6 5.65 6 5.65 6 5.65 6 5.65 6 5.65 6 5.65"/>
<path d="M186.9 288.13 L187.02 288.1 L187.14 287.99 L187.26 287.82 L187.38 287.59 L187.5 287.29 L187.62 286.94 L187.74 286.54 L187.86 286.09 L187.98 285.59 L188.11 285.05 L188.23 284.47 L188.35 283.86 L188.47 283.21 L188.59 282.54 L188.71 281.84 L188.83 281.12 L188.95 280.38 L189.07 279.58 L189.19 278.54 L189.31 277.24 L189.43 275.73 L189.55 274.04 L189.67 272.22 L189.79 270.3 L189.91 268.32 L190.03 266.32 L190.15 264.33 L190.27 262.4 L190.4 260.56 L190.52 258.82 L190.64 257.03 L190.76 255.22 L190.88 253.42 L191 251.65 L191.12 249.96 L191.24 248.38 L191.36 246.91 L191.48 245.54 L191.6 244.22 L191.72 242.93 L191.84 241.62 L191.96 240.26 L192.08 238.82 L192.2 237.26 L192.32 235.53 L192.44 233.66 L192.57 231.68 L192.69 229.63 L192.81 227.56 L192.93 225.5 L193.05 223.49 L193.17 221.58 L193.29 219.8 L193.41 218.18 L193.53 216.7 L193.65 215.27 L193.77 213.88 L193.89 212.54 L194.01 211.24 L194.13 209.99 L194.25 208.77 L194.37 207.6 L194.49 206.46 L194.61 205.36 L194.73 204.3 L194.86 203.27 L194.98 202.28 L195.1 201.32 L195.22 200.39 L195.34 199.48 L195.46 198.61 L195.58 197.78 L195.7 196.97 L195.82 196.2 L195.94 195.47 L196.06 194.77 L196.1 194.56 L196.18 194.8 L196.3 195.14 L196.42 195.47 L196.54 195.8 L196.66 196.12 L196.78 196.43 L196.9 196.73 L197.02 197.02 L197.15 197.31 L197.27 197.59 L197.39 197.86 L197.51 198.13 L197.63 198.39 L197.75 198.65 L197.87 198.9 L197.99 199.14 L198.11 199.37 L198.23 199.59 L198.35 199.81 L198.47 200 L198.59 200.19 L198.71 200.37 L198.83 200.54 L198.95 200.71 L199.07 200.87 L199.19 201.03 L199.32 201.18 L199.44 201.33 L199.56 201.47 L199.68 201.61 L199.8 201.75 L199.92 201.88 L200.04 202.01 L200.16 202.14 L200.28 202.27 L200.4 202.39 L200.52 202.51 L200.64 202.63 L200.76 202.75 L200.88 202.86 L201 202.97 L201.12 203.08 L201.24 203.19 L201.36 203.3 L201.48 203.4 L201.61 203.5 L201.73 203.6 L201.85 203.7 L201.97 203.79 L202.09 203.89 L202.21 203.98 L202.33 204.07 L202.45 204.15 L202.57 204.24 L202.69 204.32 L202.81 204.41 L202.93 204.49 L203.05 204.57 L203.17 204.66 L203.29 204.74 L203.41 204.82 L203.53 204.9 L203.65 204.98 L203.77 205.06 L203.9 205.14 L204.02 205.22 L204.14 205.29 L204.26 205.37 L204.38 205.45 L204.5 205.52 L204.62 205.59 L204.74 205.67 L204.86 205.74 L204.98 205.81 L205.1 205.88 L205.22 205.94 L205.34 206.01 L205.46 206.07 L205.58 206.14 L205.7 206.2 L205.82 206.26 L205.94 206.32 L206.06 206.38 L206.59 206.61 L207.12 206.81 L207.65 206.99 L208.17 207.16 L208.7 207.32 L209.23 207.47 L209.76 207.6 L210.28 207.71 L210.81 207.81 L211.34 207.9 L211.87 207.99 L212.39 208.07 L212.92 208.15 L213.45 208.22 L213.98 208.29 L214.5 208.36 L215.03 208.42 L215.56 208.48 L216.09 208.54 L216.61 208.59 L217.14 208.64 L217.67 208.69 L218.2 208.73 L218.72 208.77 L219.25 208.81 L219.78 208.84 L220.31 208.87 L220.83 208.9 L221.36 208.93 L221.89 208.96 L222.42 208.98 L222.94 209.01 L223.47 209.03 L224 209.05 L224.53 209.07 L225.05 209.09 L225.58 209.11 L226.11 209.13 L226.64 209.14 L227.16 209.16 L227.69 209.18 L228.22 209.2 L228.75 209.21 L229.27 209.23 L229.8 209.25 L230.33 209.27 L230.86 209.29 L231.38 209.31 L231.91 209.33 L232.44 209.35 L232.97 209.37 L233.49 209.39 L234.02 209.42 L234.55 209.44 L235.08 209.46 L235.6 209.49 L236.13 209.51 L236.66 209.54 L237.19 209.56 L237.71 209.58 L238.24 209.61 L238.77 209.63 L239.3 209.66 L239.82 209.68 L240.35 209.71 L240.88 209.73 L241.41 209.76 L241.93 209.78 L242.46 209.81 L242.99 209.83 L243.52 209.86 L244.04 209.88 L244.57 209.91 L245.1 209.93 L245.63 209.96 L246.15 209.98 L246.68 210 L247.21 210.03 L247.74 210.05 L248.26 210.07 L248.79 210.1 L249.32 210.12 L249.85 210.14 L250.37 210.16 L250.9 210.18 L251.43 210.2 L251.96 210.22 L252.48 210.24 L253.01 210.26 L253.54 210.28 L254.07 210.29 L254.59 210.31 L255.12 210.33 L255.65 210.34 L256.18 210.36 L256.7 210.37 L257.23 210.38 L257.76 210.4 L258.29 210.41 L258.81 210.42 L259.34 210.43 L259.87 210.43 L260.4 210.44 L260.92 210.45 L261.45 210.46 L261.98 210.47 L262.51 210.47 L263.03 210.48 L263.56 210.49 L266.51 210.53 L269.46 210.57 L272.41 210.61 L275.35 210.64 L278.3 210.68 L281.25 210.7 L284.2 210.73 L287.15 210.75 L290.1 210.77 L293.04 210.79 L295.99 210.8 L298.94 210.81 L301.89 210.81 L304.84 210.81 L307.79 210.81 L310.74 210.81 L313.68 210.81 L316.63 210.81 L319.58 210.81 L322.53 210.81 L325.48 210.81 L328.43 210.81 L331.37 210.81 L334.32 210.81 L337.27 210.81 L340.22 210.81 L343.17 210.81 L346.12 210.81 L349.07 210.81 L352.01 210.81 L354.96 210.81 L357.91 210.81 L360.86 210.81 L363.81 210.81 L366.76 210.81 L369.7 210.81 L372.65 210.81 L375.6 210.81 L378.55 210.81" stroke="#ff00ff" stroke-dasharray="6.15 1.84 2.15 1.79 6.15 1.84 2.15 1.79 6.15 1.84 2.15 1.79 6.15 1.84 2.15 1.79 6.15 1.84 2.15 1.79 6.15 1.84 2.15 1.79 6.15 1.84 2.15 1.79 6.15 1.84 2.15 1.79 6.15 1.84 2.15 1.79 6.15 1.84 2.15 1.79 6 1.8 2.1 1.75 6 1.8 2.1 1.75 6 1.8 2.1 1.75 6 1.8 2.1 1.75 6 1.8 2.1 1.75 6 1.8 2.1 1.75 6 1.8 2.1 1.75 6 1.8 2.1 1.75 6 1.8 2.1 1.75 6 1.8 2.1 1.75 6 1.8 2.1 1.75 6 1.8 2.1 1.75 6 1.8 2.1 1.75 6 1.8 2.1 1.75 6 1.8 2.1 1.75 6 1.8 2.1 1.75"/>
<path d="M186.9 231.73 L187.02 233.91 L187.14 236.04 L187.26 238.14 L187.38 240.19 L187.5 242.19 L187.62 244.15 L187.74 246.08 L187.86 247.96 L187.98 249.8 L188.11 251.6 L188.23 253.35 L188.35 255.04 L188.47 256.65 L188.59 258.21 L188.71 259.77 L188.83 261.36 L188.95 263.01 L189.07 264.77 L189.19 266.72 L189.31 268.78 L189.43 270.85 L189.55 272.84 L189.67 274.66 L189.79 276.21 L189.91 277.59 L190.03 278.91 L190.15 280.15 L190.27 281.32 L190.4 282.42 L190.52 283.45 L190.64 284.41 L190.76 285.3 L190.88 286.12 L191 286.9 L191.12 287.64 L191.24 288.35 L191.36 289.02 L191.48 289.67 L191.6 290.29 L191.72 290.88 L191.84 291.46 L191.96 292.02 L192.08 292.57 L192.2 293.1 L192.32 293.63 L192.44 294.16 L192.57 294.68 L192.69 295.2 L192.81 295.71 L192.93 296.21 L193.05 296.7 L193.17 297.18 L193.29 297.65 L193.41 298.11 L193.53 298.56 L193.65 299.01 L193.77 299.45 L193.89 299.88 L194.01 300.31 L194.13 300.74 L194.25 301.16 L194.37 301.58 L194.49 301.99 L194.61 302.4 L194.73 302.8 L194.86 303.2 L194.98 303.59 L195.1 303.98 L195.22 304.36 L195.34 304.74 L195.46 305.11 L195.58 305.47 L195.62 305.6 L195.7 305.6 L195.82 305.6 L195.94 305.6 L196.06 305.6 L196.18 305.6 L196.3 305.6 L196.42 305.6 L196.54 305.6 L196.66 305.6 L196.78 305.6 L196.9 305.6 L197.02 305.6 L197.15 305.6 L197.27 305.6 L197.39 305.6 L197.51 305.6 L197.63 305.6 L197.75 305.6 L197.87 305.6 L197.99 305.6 L198.11 305.6 L198.23 305.6 L198.35 305.6 L198.47 305.6 L198.59 305.6 L198.71 305.6 L198.83 305.6 L198.95 305.6 L199.07 305.6 L199.19 305.6 L199.32 305.6 L199.44 305.6 L199.56 305.6 L199.68 305.6 L199.8 305.6 L199.92 305.6 L200.04 305.6 L200.16 305.6 L200.28 305.61 L200.4 305.61 L200.52 305.61 L200.64 305.61 L200.76 305.61 L200.88 305.61 L201 305.61 L201.12 305.61 L201.24 305.61 L201.36 305.61 L201.48 305.61 L201.61 305.61 L201.73 305.61 L201.85 305.61 L201.97 305.61 L202.09 305.62 L202.21 305.62 L202.33 305.62 L202.45 305.62 L202.57 305.62 L202.69 305.62 L202.81 305.62 L202.93 305.62 L203.05 305.62 L203.17 305.62 L203.29 305.62 L203.41 305.63 L203.53 305.63 L203.65 305.63 L203.77 305.63 L203.9 305.63 L204.02 305.63 L204.14 305.63 L204.26 305.63 L204.38 305.63 L204.5 305.64 L204.62 305.64 L204.74 305.64 L204.86 305.64 L204.98 305.64 L205.1 305.64 L205.22 305.64 L205.34 305.64 L205.46 305.64 L205.58 305.65 L205.7 305.65 L205.82 305.65 L205.94 305.65 L206.06 305.65 L206.59 305.66 L207.12 305.66 L207.65 305.67 L208.17 305.67 L208.7 305.68 L209.23 305.69 L209.76 305.69 L210.28 305.7 L210.81 305.7 L211.34 305.71 L211.87 305.72 L212.39 305.72 L212.92 305.73 L213.45 305.74 L213.98 305.75 L214.5 305.75 L215.03 305.76 L215.56 305.77 L216.09 305.77 L216.61 305.78 L217.14 305.79 L217.67 305.79 L218.2 305.8 L218.72 305.81 L219.25 305.81 L219.78 305.82 L220.31 305.83 L220.83 305.83 L221.36 305.84 L221.89 305.84 L222.42 305.85 L222.94 305.85 L223.47 305.86 L224 305.86 L224.53 305.87 L225.05 305.87 L225.58 305.88 L226.11 305.88 L226.64 305.89 L227.16 305.89 L227.69 305.9 L228.22 305.9 L228.75 305.91 L229.27 305.91 L229.8 305.92 L230.33 305.92 L230.86 305.93 L231.38 305.93 L231.91 305.94 L232.44 305.94 L232.97 305.95 L233.49 305.95 L234.02 305.96 L234.55 305.96 L235.08 305.97 L235.6 305.97 L236.13 305.98 L236.66 305.98 L237.19 305.99 L237.71 305.99 L238.24 306 L238.77 306 L239.3 306.01 L239.82 306.01 L240.35 306.02 L240.88 306.02 L241.41 306.03 L241.93 306.03 L242.46 306.04 L242.99 306.04 L243.52 306.05 L244.04 306.05 L244.57 306.06 L245.1 306.06 L245.63 306.07 L246.15 306.07 L246.68 306.08 L247.21 306.08 L247.74 306.08 L248.26 306.09 L248.79 306.09 L249.32 306.1 L249.85 306.1 L250.37 306.1 L250.9 306.11 L251.43 306.11 L251.96 306.11 L252.48 306.12 L253.01 306.12 L253.54 306.12 L254.07 306.13 L254.59 306.13 L255.12 306.13 L255.65 306.14 L256.18 306.14 L256.7 306.14 L257.23 306.14 L257.76 306.14 L258.29 306.15 L258.81 306.15 L259.34 306.15 L259.87 306.15 L260.4 306.15 L260.92 306.15 L261.45 306.15 L261.98 306.15 L262.51 306.16 L263.03 306.16 L263.56 306.16 L266.51 306.16 L269.46 306.16 L272.41 306.16 L275.35 306.16 L278.3 306.16 L281.25 306.16 L284.2 306.16 L287.15 306.16 L290.1 306.16 L293.04 306.16 L295.99 306.16 L298.94 306.16 L301.89 306.16 L304.84 306.16 L307.79 306.16 L310.74 306.16 L313.68 306.16 L316.63 306.16 L319.58 306.16 L322.53 306.16 L325.48 306.16 L328.43 306.16 L331.37 306.16 L334.32 306.16 L337.27 306.16 L340.22 306.16 L343.17 306.16 L346.12 306.16 L349.07 306.16 L352.01 306.16 L354.96 306.16 L357.91 306.16 L360.86 306.16 L363.81 306.16 L366.76 306.16 L369.7 306.16 L372.65 306.16 L375.6 306.16 L378.55 306.16" stroke="#000000" stroke-dasharray="6.07 1.82 2.12 1.77 6.07 1.82 2.12 1.77 6.07 1.82 2.12 1.77 6.07 1.82 2.12 1.77 6.07 1.82 2.12 1.77 6.07 1.82 2.12 1.77 6.07 1.82 2.12 1.77 6.07 1.82 2.12 1.77 6 1.8 2.1 1.75 6 1.8 2.1 1.75 6 1.8 2.1 1.75 6 1.8 2.1 1.75 6 1.8 2.1 1.75 6 1.8 2.1 1.75 6 1.8 2.1 1.75 6 1.8 2.1 1.75 6 1.8 2.1 1.75 6 1.8 2.1 1.75 6 1.8 2.1 1.75 6 1.8 2.1 1.75 6 1.8 2.1 1.75 6 1.8 2.1 1.75 6 1.8 2.1 1.75 6 1.8 2.1 1.75"/>
<path d="M186.9 245.74 L187.02 245.05 L187.14 244.37 L187.26 243.71 L187.38 243.06 L187.5 242.42 L187.62 241.8 L187.74 241.19 L187.86 240.6 L187.98 240.02 L188.11 239.46 L188.23 238.92 L188.35 238.4 L188.47 237.89 L188.59 237.4 L188.71 236.93 L188.83 236.47 L188.95 236.04 L189.07 235.62 L189.19 235.19 L189.31 234.75 L189.43 234.31 L189.55 233.86 L189.67 233.42 L189.79 233 L189.91 232.6 L190.03 232.22 L190.15 231.88 L190.27 231.58 L190.4 231.33 L190.52 231.12 L190.64 230.98 L190.76 230.9 L190.88 230.89 L191 230.89 L191.12 230.89 L191.24 230.9 L191.36 230.91 L191.48 230.92 L191.6 230.93 L191.72 230.94 L191.84 230.96 L191.96 230.98 L192.08 230.99 L192.2 231.01 L192.32 231.03 L192.44 231.05 L192.57 231.08 L192.69 231.1 L192.81 231.12 L192.93 231.15 L193.05 231.17 L193.17 231.2 L193.29 231.24 L193.41 231.3 L193.53 231.36 L193.65 231.42 L193.77 231.5 L193.89 231.57 L194.01 231.65 L194.13 231.74 L194.25 231.82 L194.37 231.9 L194.49 231.98 L194.61 232.06 L194.73 232.13 L194.86 232.19 L194.98 232.25 L195.1 232.3 L195.22 232.34 L195.34 232.36 L195.46 232.38 L195.58 232.37 L195.7 232.3 L195.82 232.15 L195.94 231.94 L196.06 231.68 L196.18 231.37 L196.3 231.02 L196.42 230.65 L196.54 230.26 L196.66 229.86 L196.78 229.45 L196.9 229.06 L197.02 228.68 L197.15 228.32 L197.27 228 L197.39 227.71 L197.51 227.43 L197.63 227.15 L197.75 226.88 L197.87 226.6 L197.99 226.32 L198.11 226.04 L198.23 225.77 L198.35 225.5 L198.47 225.24 L198.59 224.98 L198.71 224.73 L198.83 224.48 L198.95 224.24 L199.07 224.02 L199.19 223.8 L199.32 223.59 L199.44 223.4 L199.56 223.22 L199.68 223.04 L199.8 222.87 L199.92 222.71 L200.04 222.54 L200.16 222.38 L200.28 222.22 L200.4 222.06 L200.52 221.91 L200.64 221.75 L200.76 221.61 L200.88 221.46 L201 221.32 L201.12 221.18 L201.24 221.04 L201.36 220.91 L201.48 220.78 L201.61 220.66 L201.73 220.53 L201.85 220.41 L201.97 220.3 L202.09 220.18 L202.21 220.07 L202.33 219.97 L202.45 219.86 L202.57 219.76 L202.69 219.67 L202.81 219.58 L202.93 219.49 L203.05 219.4 L203.17 219.32 L203.29 219.24 L203.41 219.16 L203.53 219.08 L203.65 219.01 L203.77 218.93 L203.9 218.86 L204.02 218.79 L204.14 218.72 L204.26 218.65 L204.38 218.58 L204.5 218.51 L204.62 218.44 L204.74 218.37 L204.86 218.31 L204.98 218.24 L205.1 218.18 L205.22 218.12 L205.34 218.06 L205.46 218 L205.58 217.94 L205.7 217.88 L205.82 217.82 L205.94 217.77 L206.06 217.71 L206.59 217.48 L207.12 217.27 L207.65 217.08 L208.17 216.91 L208.7 216.76 L209.23 216.62 L209.76 216.5 L210.28 216.38 L210.81 216.28 L211.34 216.19 L211.87 216.1 L212.39 216.01 L212.92 215.93 L213.45 215.86 L213.98 215.78 L214.5 215.7 L215.03 215.62 L215.56 215.53 L216.09 215.45 L216.61 215.37 L217.14 215.3 L217.67 215.23 L218.2 215.18 L218.72 215.14 L219.25 215.11 L219.78 215.1 L220.31 215.09 L220.83 215.08 L221.36 215.08 L221.89 215.07 L222.42 215.06 L222.94 215.06 L223.47 215.05 L224 215.05 L224.53 215.04 L225.05 215.04 L225.58 215.03 L226.11 215.03 L226.64 215.03 L227.16 215.02 L227.69 215.02 L228.22 215.02 L228.75 215.02 L229.27 215.01 L229.8 215.01 L230.33 215.01 L230.86 215.01 L231.38 215.01 L231.91 215.01 L232.44 215.02 L232.97 215.02 L233.49 215.03 L234.02 215.05 L234.55 215.06 L235.08 215.08 L235.6 215.11 L236.13 215.13 L236.66 215.16 L237.19 215.19 L237.71 215.22 L238.24 215.25 L238.77 215.29 L239.3 215.32 L239.82 215.36 L240.35 215.4 L240.88 215.44 L241.41 215.49 L241.93 215.53 L242.46 215.57 L242.99 215.62 L243.52 215.67 L244.04 215.71 L244.57 215.76 L245.1 215.81 L245.63 215.86 L246.15 215.91 L246.68 215.95 L247.21 216 L247.74 216.05 L248.26 216.1 L248.79 216.14 L249.32 216.19 L249.85 216.24 L250.37 216.28 L250.9 216.32 L251.43 216.37 L251.96 216.41 L252.48 216.45 L253.01 216.49 L253.54 216.52 L254.07 216.56 L254.59 216.59 L255.12 216.62 L255.65 216.65 L256.18 216.68 L256.7 216.7 L257.23 216.72 L257.76 216.74 L258.29 216.76 L258.81 216.77 L259.34 216.78 L259.87 216.79 L260.4 216.79 L260.92 216.79 L261.45 216.8 L261.98 216.8 L262.51 216.81 L263.03 216.81 L263.56 216.82 L266.51 216.84 L269.46 216.86 L272.41 216.88 L275.35 216.9 L278.3 216.91 L281.25 216.93 L284.2 216.94 L287.15 216.95 L290.1 216.96 L293.04 216.96 L295.99 216.97 L298.94 216.97 L301.89 216.97 L304.84 216.97 L307.79 216.97 L310.74 216.97 L313.68 216.97 L316.63 216.97 L319.58 216.97 L322.53 216.97 L325.48 216.97 L328.43 216.97 L331.37 216.97 L334.32 216.97 L337.27 216.97 L340.22 216.97 L343.17 216.97 L346.12 216.97 L349.07 216.97 L352.01 216.97 L354.96 216.97 L357.91 216.97 L360.86 216.97 L363.81 216.97 L366.76 216.97 L369.7 216.97 L372.65 216.97 L375.6 216.97 L378.55 216.97" stroke="#0000ff" stroke-dasharray="6.15 1.84 2.15 1.79 6.15 1.84 2.15 1.79 6.15 1.84 2.15 1.79 6.15 1.84 2.15 1.79 6 1.8 2.1 1.75 6 1.8 2.1 1.75 6 1.8 2.1 1.75 6 1.8 2.1 1.75 6 1.8 2.1 1.75 6 1.8 2.1 1.75 6 1.8 2.1 1.75 6 1.8 2.1 1.75 6 1.8 2.1 1.75 6 1.8 2.1 1.75 6 1.8 2.1 1.75 6 1.8 2.1 1.75 6 1.8 2.1 1.75 6 1.8 2.1 1.75 6 1.8 2.1 1.75 6 1.8 2.1 1.75"/>
</g></g>
<g font-size="7.7">
<text transform="translate(186.9 375.9) scale(0.82 1)" text-anchor="middle">0</text>
<text transform="translate(225.23 375.9) scale(0.82 1)" text-anchor="middle">20</text>
<text transform="translate(263.56 375.9) scale(0.82 1)" text-anchor="middle">40</text>
<text transform="translate(301.89 375.9) scale(0.82 1)" text-anchor="middle">60</text>
<text transform="translate(340.22 375.9) scale(0.82 1)" text-anchor="middle">80</text>
<text transform="translate(378.55 375.9) scale(0.82 1)" text-anchor="middle">100</text>
<text transform="translate(184.3 201.9) scale(0.82 1)" text-anchor="end">8</text>
<text transform="translate(184.3 222.72) scale(0.82 1)" text-anchor="end">6</text>
<text transform="translate(184.3 243.55) scale(0.82 1)" text-anchor="end">4</text>
<text transform="translate(184.3 264.38) scale(0.82 1)" text-anchor="end">2</text>
<text transform="translate(184.3 285.2) scale(0.82 1)" text-anchor="end">0</text>
<text transform="translate(184.3 306.02) scale(0.82 1)" text-anchor="end">-2</text>
<text transform="translate(184.3 326.85) scale(0.82 1)" text-anchor="end">-4</text>
<text transform="translate(184.3 347.68) scale(0.82 1)" text-anchor="end">-6</text>
<text transform="translate(184.3 368.5) scale(0.82 1)" text-anchor="end">-8</text>
</g>
<text transform="translate(282.73 385.8) scale(0.86 1)" text-anchor="middle" font-size="8.03">t</text>
<text transform="translate(172.85 282.25) rotate(-90) scale(1 0.86)" text-anchor="middle" font-size="8.03">e<tspan font-size="5.2" dy="2.8">i3</tspan><tspan dy="-2.8">(t,0)</tspan></text>
<rect x="332.3" y="203.2" width="41.9" height="56.7" fill="#fff" stroke="#8c8c8c" stroke-width="0.8"/>
<path d="M334.1 209.67 H351.7" stroke="#00ff00" stroke-width="1.85" fill="none"/>
<text transform="translate(352.8 211.37) scale(0.86 1)" font-size="6.6">e<tspan font-size="5" dx="0.45" dy="2.5">13</tspan><tspan dx="0.6" dy="-2.5">(t,0)</tspan></text>
<path d="M334.1 220.61 H351.7" stroke="#ff0000" stroke-width="1.85" fill="none" stroke-dasharray="6 5.65"/>
<text transform="translate(352.8 222.31) scale(0.86 1)" font-size="6.6">e<tspan font-size="5" dx="0.45" dy="2.5">23</tspan><tspan dx="0.6" dy="-2.5">(t,0)</tspan></text>
<path d="M334.1 231.55 H351.7" stroke="#ff00ff" stroke-width="1.85" fill="none" stroke-dasharray="6 1.8 2.1 1.75"/>
<text transform="translate(352.8 233.25) scale(0.86 1)" font-size="6.6">e<tspan font-size="5" dx="0.45" dy="2.5">33</tspan><tspan dx="0.6" dy="-2.5">(t,0)</tspan></text>
<path d="M334.1 242.49 H351.7" stroke="#000000" stroke-width="1.85" fill="none" stroke-dasharray="6 1.8 2.1 1.75"/>
<text transform="translate(352.8 244.19) scale(0.86 1)" font-size="6.6">e<tspan font-size="5" dx="0.45" dy="2.5">43</tspan><tspan dx="0.6" dy="-2.5">(t,0)</tspan></text>
<path d="M334.1 253.43 H351.7" stroke="#0000ff" stroke-width="1.85" fill="none" stroke-dasharray="6 1.8 2.1 1.75"/>
<text transform="translate(352.8 255.13) scale(0.86 1)" font-size="6.6">e<tspan font-size="5" dx="0.45" dy="2.5">53</tspan><tspan dx="0.6" dy="-2.5">(t,0)</tspan></text>
</g>
</g>
</svg>
</body></html>
